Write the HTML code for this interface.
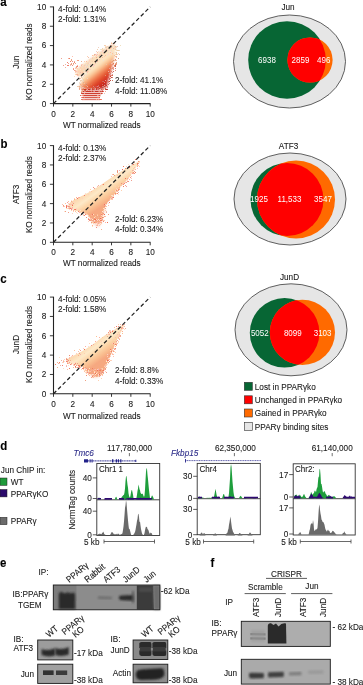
<!DOCTYPE html>
<html><head><meta charset="utf-8"><style>
html,body{margin:0;padding:0;background:#fff;width:363px;height:685px;overflow:hidden}
svg{display:block;will-change:transform}
svg{fill:#1a1a1a}
text{font-family:"Liberation Sans", sans-serif;font-size:8.2px;stroke-width:0.1px}
</style></head><body>
<svg width="363" height="685" viewBox="0 0 363 685">
<defs><filter id="blur" x="-5%" y="-5%" width="110%" height="110%"><feGaussianBlur stdDeviation="0.35"/></filter><filter id="blur1" x="-20%" y="-20%" width="140%" height="140%"><feGaussianBlur stdDeviation="1.0"/></filter><filter id="blur08" x="-20%" y="-20%" width="140%" height="140%"><feGaussianBlur stdDeviation="0.7"/></filter><linearGradient id="gA" gradientUnits="userSpaceOnUse" x1="78.7" y1="64.4" x2="98.7" y2="88.7"><stop offset="0.000" stop-color="#f9c8a0"/><stop offset="0.200" stop-color="#fce0bc"/><stop offset="0.400" stop-color="#fde6c2"/><stop offset="0.514" stop-color="#fbc898"/><stop offset="0.600" stop-color="#f6a070"/><stop offset="0.686" stop-color="#ee7a4e"/><stop offset="0.800" stop-color="#e2502f"/><stop offset="0.914" stop-color="#d63424"/><stop offset="1.000" stop-color="#c8281c"/></linearGradient><linearGradient id="gB" gradientUnits="userSpaceOnUse" x1="99.4" y1="176.9" x2="114.0" y2="198.0"><stop offset="0.000" stop-color="#f9c49e"/><stop offset="0.250" stop-color="#fcdab2"/><stop offset="0.450" stop-color="#fde9c8"/><stop offset="0.650" stop-color="#fcd4a6"/><stop offset="0.850" stop-color="#f9bc8e"/><stop offset="1.000" stop-color="#f6a880"/></linearGradient><linearGradient id="gC" gradientUnits="userSpaceOnUse" x1="92.1" y1="335.4" x2="107.0" y2="356.0"><stop offset="0.000" stop-color="#f9c49e"/><stop offset="0.250" stop-color="#fcdab2"/><stop offset="0.450" stop-color="#fde9c8"/><stop offset="0.650" stop-color="#fcd4a6"/><stop offset="0.850" stop-color="#f9bc8e"/><stop offset="1.000" stop-color="#f6a880"/></linearGradient></defs>
<text x="0.30" y="6.00" style="font-size:12.65px" fill="#000" stroke="#000" font-weight="bold" textLength="6.40" lengthAdjust="spacingAndGlyphs">a</text>
<text x="0.60" y="147.60" style="font-size:12.65px" fill="#000" stroke="#000" font-weight="bold" textLength="7.02" lengthAdjust="spacingAndGlyphs">b</text>
<text x="0.30" y="283.40" style="font-size:12.65px" fill="#000" stroke="#000" font-weight="bold" textLength="6.40" lengthAdjust="spacingAndGlyphs">c</text>
<text x="0.30" y="449.60" style="font-size:12.65px" fill="#000" stroke="#000" font-weight="bold" textLength="7.02" lengthAdjust="spacingAndGlyphs">d</text>
<text x="0.00" y="566.90" style="font-size:12.65px" fill="#000" stroke="#000" font-weight="bold" textLength="6.40" lengthAdjust="spacingAndGlyphs">e</text>
<text x="210.50" y="566.70" style="font-size:12.65px" fill="#000" stroke="#000" font-weight="bold" textLength="3.83" lengthAdjust="spacingAndGlyphs">f</text>
<g><path d="M76.5 70.0C78.1 67.5 83.8 63.8 87.5 61.0C91.2 58.2 94.8 55.5 98.5 53.0C102.2 50.5 106.8 47.7 109.5 46.3C112.2 44.9 114.6 43.9 115.0 44.5C115.4 45.1 114.5 47.8 112.0 50.0C109.5 52.2 103.7 55.2 100.0 58.0C96.3 60.8 92.8 64.2 90.0 67.0C87.2 69.8 85.0 73.5 83.0 75.0C81.0 76.5 79.1 76.8 78.0 76.0C76.9 75.2 74.9 72.5 76.5 70.0Z" fill="#fbcfa6" opacity="0.85" filter="url(#blur1)"/><path d="M114.6 46.2C115.8 46.9 115.3 49.4 115.2 52.0C115.0 54.5 114.2 58.4 113.5 61.6C112.8 64.8 112.0 68.1 111.1 71.3C110.1 74.5 109.1 78.0 107.9 80.9C106.7 83.7 108.3 87.1 103.9 88.3C99.5 89.6 85.0 89.6 81.3 88.3C77.6 87.1 81.3 83.2 81.8 80.9C82.2 78.6 82.6 77.6 84.0 74.5C85.4 71.4 87.7 65.7 90.3 62.2C93.0 58.6 97.1 55.9 100.0 53.4C102.9 51.0 105.4 48.8 107.8 47.6C110.2 46.4 113.3 45.4 114.6 46.2Z" fill="url(#gA)" filter="url(#blur1)"/><path d="M81.0 89.5H103.5" stroke="#cc3424" stroke-width="1.3" opacity="1"/><path fill="#f0b0a0" d="M79 89h1v1h-1zM83 89h1v1h-1z"/><path fill="#f0a090" d="M81 89h1v1h-1z"/><path fill="#f07050" d="M82 89h1v1h-1z"/><path fill="#f0b090" d="M99 89h1v1h-1z"/><path fill="#f0c0b0" d="M100 89h1v1h-1zM101 89h1v1h-1z"/><path fill="#f0c0a0" d="M105 89h1v1h-1z"/><path fill="#f09070" d="M103 89h1v1h-1z"/><path fill="#e09080" d="M102 89h1v1h-1z"/><path d="M81.5 91.5H103.0" stroke="#cc3424" stroke-width="1.3" opacity="1"/><path fill="#f0c0b0" d="M81 91h1v1h-1zM84 91h1v1h-1z"/><path fill="#e06060" d="M82 91h1v1h-1z"/><path fill="#f09070" d="M99 91h1v1h-1z"/><path fill="#f0b0a0" d="M100 91h1v1h-1z"/><path fill="#f0a090" d="M105 91h1v1h-1z"/><path fill="#f07060" d="M101 91h1v1h-1z"/><path fill="#e07060" d="M103 91h1v1h-1z"/><path d="M82.0 93.5H102.0" stroke="#cc3424" stroke-width="1.3" opacity="0.95"/><path fill="#f0a080" d="M84 93h1v1h-1z"/><path fill="#e05040" d="M81 93h1v1h-1z"/><path fill="#f0c0b0" d="M104 93h1v1h-1z"/><path fill="#e09080" d="M100 93h1v1h-1z"/><path fill="#e08070" d="M102 93h1v1h-1z"/><path d="M82.5 95.5H101.0" stroke="#cc3424" stroke-width="1.3" opacity="0.9"/><path fill="#e07060" d="M80 95h1v1h-1z"/><path fill="#e04030" d="M84 95h1v1h-1z"/><path fill="#f07060" d="M83 95h1v1h-1zM98 95h1v1h-1z"/><path fill="#f0c0b0" d="M81 95h1v1h-1zM100 95h1v1h-1z"/><path fill="#f0a080" d="M82 95h1v1h-1zM97 95h1v1h-1z"/><path d="M83.0 97.5H100.0" stroke="#cc3424" stroke-width="1.3" opacity="0.8"/><path fill="#f06050" d="M82 97h1v1h-1z"/><path fill="#f08070" d="M84 97h1v1h-1zM98 97h1v1h-1z"/><path fill="#f09090" d="M81 97h1v1h-1z"/><path fill="#e05040" d="M99 97h1v1h-1z"/><path fill="#f07060" d="M97 97h1v1h-1z"/><path d="M82.0 99.5H100.0" stroke="#cc3424" stroke-width="1.3" opacity="0.65"/><path fill="#f0a080" d="M83 99h1v1h-1z"/><path fill="#f09070" d="M84 99h1v1h-1z"/><path fill="#e08070" d="M81 99h1v1h-1z"/><path fill="#f0a090" d="M98 99h1v1h-1z"/><path fill="#f07050" d="M100 99h1v1h-1z"/><path fill="#f0b090" d="M96 99h1v1h-1z"/><path fill="#f08070" d="M101 99h1v1h-1z"/><path fill="#e08080" d="M97 86h1v1h-1zM104 82h1v1h-1zM102 90h1v1h-1z"/><path fill="#f0b090" d="M81 91h1v1h-1zM79 86h1v1h-1zM116 56h1v1h-1zM80 84h1v1h-1zM82 90h1v1h-1zM115 63h1v1h-1zM84 88h1v1h-1z"/><path fill="#e09080" d="M87 90h1v1h-1zM84 91h1v1h-1zM92 90h1v1h-1zM99 87h1v1h-1zM115 70h1v1h-1zM112 64h1v1h-1zM110 69h1v1h-1zM112 68h1v1h-1zM107 86h1v1h-1z"/><path fill="#c03030" d="M96 91h1v1h-1zM105 84h1v1h-1z"/><path fill="#f0e0c0" d="M114 48h1v1h-1zM115 48h1v1h-1zM86 69h1v1h-1zM90 65h1v1h-1zM119 50h1v1h-1zM115 46h1v1h-1zM102 49h1v1h-1zM80 78h1v1h-1zM110 45h1v1h-1zM82 67h1v1h-1zM104 49h1v1h-1zM97 56h1v1h-1zM88 66h1v1h-1zM93 59h1v1h-1zM115 54h1v1h-1zM92 57h1v1h-1zM88 70h1v1h-1zM103 53h1v1h-1zM93 67h1v1h-1zM90 61h1v1h-1zM79 78h1v1h-1zM82 78h1v1h-1zM120 45h1v1h-1zM90 67h1v1h-1zM114 46h1v1h-1zM96 54h1v1h-1zM99 56h1v1h-1zM116 50h1v1h-1zM84 73h1v1h-1zM112 46h1v1h-1zM111 50h1v1h-1zM112 47h1v1h-1zM83 70h1v1h-1zM107 50h1v1h-1zM110 50h1v1h-1zM88 67h1v1h-1zM107 51h1v1h-1zM88 64h1v1h-1zM109 51h1v1h-1zM112 43h1v1h-1zM106 50h1v1h-1zM101 49h1v1h-1zM85 64h1v1h-1z"/><path fill="#f0d0c0" d="M96 51h1v1h-1zM103 52h1v1h-1zM86 67h1v1h-1zM87 65h1v1h-1zM90 64h1v1h-1zM118 53h1v1h-1zM98 47h1v1h-1zM109 47h1v1h-1zM88 63h1v1h-1zM87 78h1v1h-1zM97 55h1v1h-1zM84 68h1v1h-1zM80 83h1v1h-1zM82 75h1v1h-1zM84 75h1v1h-1zM117 54h1v1h-1zM91 66h1v1h-1z"/><path fill="#e09090" d="M112 72h1v1h-1zM110 78h1v1h-1zM107 87h1v1h-1zM94 91h1v1h-1zM108 82h1v1h-1zM107 82h1v1h-1zM105 80h1v1h-1z"/><path fill="#e0a080" d="M86 85h1v1h-1zM118 58h1v1h-1zM111 68h1v1h-1zM116 63h1v1h-1zM83 85h1v1h-1zM86 83h1v1h-1zM82 91h1v1h-1zM116 62h1v1h-1zM112 61h1v1h-1zM109 64h1v1h-1z"/><path fill="#d05040" d="M93 89h1v1h-1zM95 86h1v1h-1z"/><path fill="#f0c0a0" d="M106 64h1v1h-1zM111 60h1v1h-1zM115 56h1v1h-1zM114 60h1v1h-1zM84 83h1v1h-1zM116 54h1v1h-1zM116 60h1v1h-1zM119 54h1v1h-1zM114 55h1v1h-1zM81 86h1v1h-1z"/><path fill="#f0a0a0" d="M87 89h1v1h-1z"/><path fill="#f0d0b0" d="M97 54h1v1h-1zM81 80h1v1h-1zM80 86h1v1h-1zM82 72h1v1h-1zM85 69h1v1h-1zM97 49h1v1h-1zM89 60h1v1h-1zM87 69h1v1h-1zM92 61h1v1h-1zM83 80h1v1h-1zM97 52h1v1h-1zM110 46h1v1h-1zM83 79h1v1h-1zM104 45h1v1h-1zM117 50h1v1h-1zM106 47h1v1h-1zM103 50h1v1h-1zM102 48h1v1h-1zM102 51h1v1h-1zM81 77h1v1h-1zM80 80h1v1h-1zM77 86h1v1h-1zM92 58h1v1h-1zM118 50h1v1h-1zM83 81h1v1h-1zM85 65h1v1h-1zM78 86h1v1h-1zM84 65h1v1h-1zM94 55h1v1h-1zM105 47h1v1h-1z"/><path fill="#d06050" d="M85 90h1v1h-1zM101 91h1v1h-1zM102 81h1v1h-1zM89 87h1v1h-1zM108 77h1v1h-1zM112 75h1v1h-1zM105 88h1v1h-1zM115 66h1v1h-1z"/><path fill="#f0e0d0" d="M100 54h1v1h-1zM111 51h1v1h-1zM85 66h1v1h-1zM100 49h1v1h-1zM116 47h1v1h-1zM89 62h1v1h-1zM99 53h1v1h-1zM111 45h1v1h-1zM109 48h1v1h-1zM101 51h1v1h-1zM86 64h1v1h-1zM86 72h1v1h-1zM82 80h1v1h-1zM86 65h1v1h-1zM101 53h1v1h-1zM107 55h1v1h-1zM105 49h1v1h-1zM93 57h1v1h-1zM106 46h1v1h-1zM104 50h1v1h-1zM114 45h1v1h-1zM105 46h1v1h-1zM108 50h1v1h-1zM98 53h1v1h-1zM116 46h1v1h-1zM108 52h1v1h-1zM83 76h1v1h-1zM111 53h1v1h-1zM80 81h1v1h-1zM112 48h1v1h-1zM79 83h1v1h-1zM96 55h1v1h-1zM86 74h1v1h-1zM84 74h1v1h-1zM86 68h1v1h-1zM91 58h1v1h-1zM103 51h1v1h-1zM103 60h1v1h-1zM114 47h1v1h-1zM113 52h1v1h-1zM82 77h1v1h-1zM115 52h1v1h-1zM111 54h1v1h-1zM112 44h1v1h-1zM84 70h1v1h-1zM112 49h1v1h-1zM79 82h1v1h-1zM96 62h1v1h-1zM90 59h1v1h-1zM89 66h1v1h-1zM108 46h1v1h-1zM88 68h1v1h-1zM79 79h1v1h-1zM88 65h1v1h-1zM111 49h1v1h-1z"/><path fill="#f0f0d0" d="M115 47h1v1h-1zM115 49h1v1h-1z"/><path fill="#c05040" d="M111 77h1v1h-1zM110 80h1v1h-1zM100 91h1v1h-1zM105 89h1v1h-1z"/><path fill="#f0d0a0" d="M116 52h1v1h-1zM116 53h1v1h-1z"/><path fill="#e0a090" d="M114 66h1v1h-1zM95 89h1v1h-1zM109 73h1v1h-1zM113 67h1v1h-1zM95 88h1v1h-1zM91 88h1v1h-1zM112 74h1v1h-1zM104 87h1v1h-1zM113 69h1v1h-1zM107 84h1v1h-1zM104 85h1v1h-1z"/><path fill="#d06060" d="M101 89h1v1h-1zM103 81h1v1h-1zM98 86h1v1h-1zM98 89h1v1h-1z"/><path fill="#d08080" d="M102 86h1v1h-1zM97 89h1v1h-1z"/><path fill="#f0a090" d="M112 67h1v1h-1zM113 68h1v1h-1zM109 68h1v1h-1zM116 64h1v1h-1z"/><path fill="#d07060" d="M98 85h1v1h-1zM94 87h1v1h-1zM90 89h1v1h-1zM103 87h1v1h-1zM109 78h1v1h-1zM93 91h1v1h-1zM112 80h1v1h-1zM102 84h1v1h-1zM113 71h1v1h-1z"/><path fill="#c04040" d="M104 84h1v1h-1zM107 89h1v1h-1z"/><path fill="#d05050" d="M96 86h1v1h-1z"/><path fill="#e07070" d="M94 89h1v1h-1z"/><path fill="#e09070" d="M105 75h1v1h-1zM83 88h1v1h-1zM85 85h1v1h-1zM81 92h1v1h-1zM84 87h1v1h-1zM115 59h1v1h-1z"/><path fill="#e08060" d="M86 84h1v1h-1zM115 64h1v1h-1zM114 65h1v1h-1z"/><path fill="#d07050" d="M108 73h1v1h-1z"/><path fill="#e08070" d="M110 73h1v1h-1zM110 75h1v1h-1zM111 75h1v1h-1zM115 68h1v1h-1zM111 71h1v1h-1zM93 86h1v1h-1z"/><path fill="#d08070" d="M109 83h1v1h-1zM103 86h1v1h-1zM107 81h1v1h-1zM108 81h1v1h-1zM112 77h1v1h-1z"/><path fill="#e0a0a0" d="M91 89h1v1h-1zM89 90h1v1h-1zM110 74h1v1h-1z"/><path fill="#c03020" d="M106 89h1v1h-1z"/><path fill="#f0b080" d="M79 88h1v1h-1z"/><path fill="#e07050" d="M91 84h1v1h-1zM83 89h1v1h-1zM84 90h1v1h-1zM86 89h1v1h-1z"/><path fill="#f0c0b0" d="M82 87h1v1h-1zM116 57h1v1h-1zM111 63h1v1h-1zM112 59h1v1h-1zM79 87h1v1h-1z"/><path fill="#f0b0a0" d="M113 64h1v1h-1zM82 85h1v1h-1zM111 67h1v1h-1zM83 87h1v1h-1zM87 86h1v1h-1zM108 71h1v1h-1zM115 60h1v1h-1z"/><path fill="#d07070" d="M109 79h1v1h-1zM91 91h1v1h-1zM98 91h1v1h-1zM108 84h1v1h-1z"/><path fill="#e08050" d="M113 63h1v1h-1zM82 89h1v1h-1z"/><path fill="#d04030" d="M92 89h1v1h-1zM110 76h1v1h-1z"/><path fill="#c04030" d="M99 88h1v1h-1zM109 81h1v1h-1zM96 88h1v1h-1zM106 85h1v1h-1z"/><path fill="#e07060" d="M87 88h1v1h-1zM85 91h1v1h-1z"/><path fill="#c05050" d="M102 87h1v1h-1z"/><path fill="#f0f0e0" d="M85 73h1v1h-1zM116 49h1v1h-1zM111 48h1v1h-1z"/><path fill="#d05030" d="M92 88h1v1h-1z"/><path fill="#e0a070" d="M113 60h1v1h-1z"/><path fill="#d06040" d="M115 65h1v1h-1z"/><path fill="#e0b090" d="M83 82h1v1h-1z"/><path fill="#f08060" d="M77 66h1v1h-1zM70 61h1v1h-1zM69 58h1v1h-1z"/><path fill="#f09080" d="M73 69h1v1h-1zM72 65h1v1h-1zM72 61h1v1h-1z"/><path fill="#f0b090" d="M74 61h1v1h-1zM81 61h1v1h-1z"/><path fill="#f0a090" d="M76 66h1v1h-1zM74 70h1v1h-1zM77 60h1v1h-1zM61 58h1v1h-1zM63 65h1v1h-1zM75 63h1v1h-1zM75 67h1v1h-1zM68 63h1v1h-1z"/><path fill="#f08070" d="M68 65h1v1h-1zM67 65h1v1h-1zM67 62h1v1h-1zM74 62h1v1h-1z"/><path fill="#f0c0a0" d="M81 65h1v1h-1zM73 64h1v1h-1z"/><path fill="#f0c0b0" d="M70 65h1v1h-1z"/><path fill="#f0a080" d="M76 67h1v1h-1zM73 68h1v1h-1zM78 60h1v1h-1zM71 63h1v1h-1zM71 64h1v1h-1zM71 59h1v1h-1zM71 60h1v1h-1z"/><path fill="#f0b0a0" d="M70 64h1v1h-1zM65 67h1v1h-1zM65 64h1v1h-1zM68 58h1v1h-1zM77 65h1v1h-1z"/><path fill="#ffc0b0" d="M72 56h1v1h-1z"/><path fill="#f09070" d="M73 63h1v1h-1z"/><path fill="#ffe0d0" d="M109 51h1v1h-1zM80 69h1v1h-1zM98 51h1v1h-1zM111 42h1v1h-1zM99 53h1v1h-1zM97 55h1v1h-1zM90 58h1v1h-1zM96 61h1v1h-1zM89 63h1v1h-1zM110 51h1v1h-1zM101 55h1v1h-1zM79 66h1v1h-1zM98 54h1v1h-1zM91 63h1v1h-1zM75 67h1v1h-1zM76 70h1v1h-1zM93 56h1v1h-1zM102 58h1v1h-1zM86 70h1v1h-1z"/><path fill="#ffd0b0" d="M78 74h1v1h-1zM90 67h1v1h-1zM107 50h1v1h-1zM82 73h1v1h-1zM105 45h1v1h-1zM78 75h1v1h-1zM104 56h1v1h-1zM84 61h1v1h-1zM115 47h1v1h-1zM80 67h1v1h-1zM107 46h1v1h-1zM92 57h1v1h-1zM88 71h1v1h-1zM87 56h1v1h-1zM81 70h1v1h-1zM78 71h1v1h-1z"/><path fill="#f0b0a0" d="M97 61h1v1h-1zM77 74h1v1h-1zM106 49h1v1h-1zM111 47h1v1h-1z"/><path fill="#ffd0c0" d="M100 54h1v1h-1zM90 69h1v1h-1zM83 66h1v1h-1zM114 47h1v1h-1zM113 44h1v1h-1zM81 76h1v1h-1zM81 64h1v1h-1zM93 66h1v1h-1zM77 71h1v1h-1zM82 64h1v1h-1zM91 65h1v1h-1zM89 69h1v1h-1zM94 64h1v1h-1zM89 60h1v1h-1zM75 72h1v1h-1zM102 50h1v1h-1zM94 65h1v1h-1zM102 51h1v1h-1zM81 66h1v1h-1zM80 73h1v1h-1zM102 55h1v1h-1zM77 68h1v1h-1zM85 65h1v1h-1z"/><path fill="#ffe0c0" d="M112 51h1v1h-1zM77 69h1v1h-1zM76 68h1v1h-1zM78 73h1v1h-1zM77 70h1v1h-1zM74 76h1v1h-1zM108 53h1v1h-1zM91 62h1v1h-1zM89 59h1v1h-1zM110 50h1v1h-1zM83 73h1v1h-1zM100 61h1v1h-1zM112 45h1v1h-1zM103 49h1v1h-1zM93 55h1v1h-1zM111 49h1v1h-1zM114 49h1v1h-1zM97 60h1v1h-1zM106 54h1v1h-1zM103 54h1v1h-1zM104 57h1v1h-1z"/><path fill="#ffe0b0" d="M92 65h1v1h-1zM75 74h1v1h-1zM111 48h1v1h-1z"/><path fill="#ffc0a0" d="M75 71h1v1h-1zM111 43h1v1h-1zM86 61h1v1h-1zM112 53h1v1h-1zM97 52h1v1h-1zM110 48h1v1h-1zM92 55h1v1h-1zM110 52h1v1h-1zM105 55h1v1h-1zM82 72h1v1h-1zM80 78h1v1h-1zM99 55h1v1h-1z"/><path fill="#ffd0d0" d="M93 65h1v1h-1zM96 54h1v1h-1zM88 68h1v1h-1zM97 59h1v1h-1zM108 54h1v1h-1z"/><path fill="#ffc0b0" d="M87 71h1v1h-1zM96 55h1v1h-1zM87 72h1v1h-1zM77 75h1v1h-1zM76 71h1v1h-1zM75 68h1v1h-1z"/><path fill="#f0c0b0" d="M80 72h1v1h-1zM88 57h1v1h-1zM95 63h1v1h-1zM111 45h1v1h-1zM115 49h1v1h-1zM99 59h1v1h-1zM95 54h1v1h-1zM117 46h1v1h-1z"/><path fill="#f0b090" d="M110 45h1v1h-1zM94 61h1v1h-1zM96 57h1v1h-1zM94 54h1v1h-1z"/><path fill="#f0c0a0" d="M75 70h1v1h-1zM102 57h1v1h-1zM113 48h1v1h-1zM115 46h1v1h-1zM76 74h1v1h-1zM114 43h1v1h-1zM103 53h1v1h-1z"/><path fill="#fff0d0" d="M84 63h1v1h-1zM98 53h1v1h-1zM94 56h1v1h-1z"/><path fill="#fff0e0" d="M88 59h1v1h-1z"/></g>
<path d="M53.5 6.60V103.6H150.50" fill="none" stroke="#222" stroke-width="1.1"/>
<text x="46.20" y="106.50" style="font-size:9.02px" text-anchor="end" stroke="#1a1a1a" textLength="4.56" lengthAdjust="spacingAndGlyphs">0</text>
<text x="53.50" y="116.70" style="font-size:9.02px" text-anchor="middle" stroke="#1a1a1a" textLength="4.56" lengthAdjust="spacingAndGlyphs">0</text>
<text x="46.20" y="87.16" style="font-size:9.02px" text-anchor="end" stroke="#1a1a1a" textLength="4.56" lengthAdjust="spacingAndGlyphs">2</text>
<text x="72.84" y="116.70" style="font-size:9.02px" text-anchor="middle" stroke="#1a1a1a" textLength="4.56" lengthAdjust="spacingAndGlyphs">2</text>
<text x="46.20" y="67.82" style="font-size:9.02px" text-anchor="end" stroke="#1a1a1a" textLength="4.56" lengthAdjust="spacingAndGlyphs">4</text>
<text x="92.18" y="116.70" style="font-size:9.02px" text-anchor="middle" stroke="#1a1a1a" textLength="4.56" lengthAdjust="spacingAndGlyphs">4</text>
<text x="46.20" y="48.48" style="font-size:9.02px" text-anchor="end" stroke="#1a1a1a" textLength="4.56" lengthAdjust="spacingAndGlyphs">6</text>
<text x="111.52" y="116.70" style="font-size:9.02px" text-anchor="middle" stroke="#1a1a1a" textLength="4.56" lengthAdjust="spacingAndGlyphs">6</text>
<text x="46.20" y="29.14" style="font-size:9.02px" text-anchor="end" stroke="#1a1a1a" textLength="4.56" lengthAdjust="spacingAndGlyphs">8</text>
<text x="130.86" y="116.70" style="font-size:9.02px" text-anchor="middle" stroke="#1a1a1a" textLength="4.56" lengthAdjust="spacingAndGlyphs">8</text>
<text x="46.20" y="9.80" style="font-size:9.02px" text-anchor="end" stroke="#1a1a1a" textLength="9.12" lengthAdjust="spacingAndGlyphs">10</text>
<text x="150.20" y="116.70" style="font-size:9.02px" text-anchor="middle" stroke="#1a1a1a" textLength="9.12" lengthAdjust="spacingAndGlyphs">10</text>
<path d="M49.9 103.60H53.5M53.50 103.6V106.6M49.9 84.26H53.5M72.84 103.6V106.6M49.9 64.92H53.5M92.18 103.6V106.6M49.9 45.58H53.5M111.52 103.6V106.6M49.9 26.24H53.5M130.86 103.6V106.6M49.9 6.90H53.5M150.20 103.6V106.6" stroke="#222" stroke-width="0.9"/>
<text x="101.85" y="127.60" style="font-size:9.02px" text-anchor="middle" stroke="#1a1a1a" textLength="77.77" lengthAdjust="spacingAndGlyphs">WT normalized reads</text>
<text x="31.90" y="61.80" style="font-size:9.02px" text-anchor="middle" stroke="#1a1a1a" transform="rotate(-90 31.9 61.8)" textLength="77.02" lengthAdjust="spacingAndGlyphs">KO normalized reads</text>
<text x="18.80" y="62.20" style="font-size:9.02px" text-anchor="middle" stroke="#1a1a1a" transform="rotate(-90 18.8 62.2)" textLength="13.22" lengthAdjust="spacingAndGlyphs">Jun</text>
<text x="58.10" y="12.00" style="font-size:9.02px" stroke="#1a1a1a" textLength="48.32" lengthAdjust="spacingAndGlyphs">4-fold: 0.14%</text>
<text x="58.10" y="22.20" style="font-size:9.02px" stroke="#1a1a1a" textLength="48.32" lengthAdjust="spacingAndGlyphs">2-fold: 1.31%</text>
<text x="115.00" y="83.10" style="font-size:9.02px" stroke="#1a1a1a" textLength="48.32" lengthAdjust="spacingAndGlyphs">2-fold: 41.1%</text>
<text x="115.00" y="93.50" style="font-size:9.02px" stroke="#1a1a1a" textLength="52.27" lengthAdjust="spacingAndGlyphs">4-fold: 11.08%</text>
<path d="M53.5 103.6L150.20 6.90" stroke="#222" stroke-width="1.25" stroke-dasharray="3.9 2.6"/>
<g><path d="M89.0 212.0C86.7 214.0 89.8 217.7 91.0 220.0C92.2 222.3 94.5 225.0 96.0 226.0C97.5 227.0 98.8 227.3 100.0 226.0C101.2 224.7 102.2 221.0 103.0 218.0C103.8 215.0 107.3 209.0 105.0 208.0C102.7 207.0 91.3 210.0 89.0 212.0Z" fill="#f7a47c" opacity="0.35" filter="url(#blur1)"/><path d="M138.7 161.6C136.8 162.3 131.3 165.4 127.1 167.8C122.9 170.2 118.0 173.2 113.4 176.2C108.8 179.2 104.2 182.8 99.6 185.8C95.0 188.8 89.9 191.8 85.8 194.1C81.7 196.4 77.7 197.9 74.8 199.6C71.9 201.3 69.2 202.9 68.5 204.5C67.8 206.1 68.7 207.9 70.7 209.2C72.7 210.4 77.3 210.9 80.3 212.0C83.3 213.1 86.8 214.0 88.6 215.5C90.4 217.0 89.7 219.6 91.3 221.0C92.9 222.4 96.4 224.2 98.2 224.0C100.0 223.8 101.4 221.8 102.3 219.6C103.2 217.4 102.8 213.5 103.7 210.6C104.6 207.7 105.4 205.9 107.9 202.3C110.4 198.7 115.2 193.3 118.9 189.0C122.6 184.7 126.7 180.7 129.9 176.5C133.1 172.3 136.7 166.3 138.2 163.8C139.7 161.3 140.5 160.9 138.7 161.6Z" fill="url(#gB)" filter="url(#blur08)"/><path fill="#f0b0a0" d="M137 166h1v1h-1zM69 204h1v1h-1zM83 211h1v1h-1zM106 212h1v1h-1zM132 170h1v1h-1zM104 216h1v1h-1zM67 205h1v1h-1zM93 221h1v1h-1zM117 191h1v1h-1zM98 185h1v1h-1zM118 192h1v1h-1zM72 204h1v1h-1z"/><path fill="#ffe0c0" d="M110 199h1v1h-1zM68 207h1v1h-1zM76 212h1v1h-1zM98 222h1v1h-1zM130 173h1v1h-1zM67 208h1v1h-1zM103 208h1v1h-1zM111 195h1v1h-1z"/><path fill="#ffe0d0" d="M113 196h1v1h-1zM108 203h1v1h-1zM102 211h1v1h-1zM84 213h1v1h-1zM103 214h1v1h-1zM69 209h1v1h-1zM91 221h1v1h-1zM91 223h1v1h-1zM131 173h1v1h-1zM89 191h1v1h-1zM118 194h1v1h-1zM94 220h1v1h-1zM120 186h1v1h-1zM92 219h1v1h-1zM139 162h1v1h-1zM72 209h1v1h-1zM77 213h1v1h-1zM80 210h1v1h-1zM127 180h1v1h-1zM112 195h1v1h-1zM71 200h1v1h-1zM117 189h1v1h-1zM98 219h1v1h-1zM85 193h1v1h-1zM128 164h1v1h-1z"/><path fill="#f07060" d="M129 167h1v1h-1zM125 178h1v1h-1zM113 197h1v1h-1zM77 198h1v1h-1zM122 169h1v1h-1zM75 209h1v1h-1zM104 204h1v1h-1z"/><path fill="#f0a090" d="M127 181h1v1h-1zM117 170h1v1h-1zM131 180h1v1h-1zM104 205h1v1h-1zM125 185h1v1h-1zM94 188h1v1h-1zM118 190h1v1h-1zM69 206h1v1h-1zM138 163h1v1h-1zM105 208h1v1h-1zM132 173h1v1h-1zM92 220h1v1h-1zM112 197h1v1h-1z"/><path fill="#ffd0b0" d="M111 199h1v1h-1zM80 212h1v1h-1zM73 211h1v1h-1zM92 221h1v1h-1zM83 215h1v1h-1zM105 210h1v1h-1zM139 161h1v1h-1zM100 218h1v1h-1zM115 191h1v1h-1zM88 216h1v1h-1zM118 186h1v1h-1zM127 179h1v1h-1zM126 179h1v1h-1zM87 214h1v1h-1zM74 198h1v1h-1zM90 189h1v1h-1zM130 172h1v1h-1zM86 214h1v1h-1zM104 208h1v1h-1zM139 166h1v1h-1zM121 190h1v1h-1zM115 186h1v1h-1zM100 224h1v1h-1zM76 209h1v1h-1zM110 198h1v1h-1zM80 209h1v1h-1zM122 184h1v1h-1zM138 165h1v1h-1zM130 175h1v1h-1zM71 210h1v1h-1z"/><path fill="#ffd0c0" d="M105 204h1v1h-1zM126 166h1v1h-1zM79 209h1v1h-1zM82 198h1v1h-1zM131 178h1v1h-1zM67 206h1v1h-1zM97 220h1v1h-1zM95 223h1v1h-1zM101 215h1v1h-1zM74 202h1v1h-1zM88 194h1v1h-1zM83 214h1v1h-1zM119 173h1v1h-1zM107 202h1v1h-1zM116 188h1v1h-1zM68 203h1v1h-1zM124 182h1v1h-1zM115 190h1v1h-1zM96 219h1v1h-1zM100 185h1v1h-1zM76 208h1v1h-1z"/><path fill="#ffc0b0" d="M89 219h1v1h-1zM90 218h1v1h-1zM112 199h1v1h-1zM97 186h1v1h-1zM117 175h1v1h-1zM123 183h1v1h-1zM119 188h1v1h-1zM108 205h1v1h-1zM109 200h1v1h-1zM134 167h1v1h-1zM125 182h1v1h-1zM83 212h1v1h-1zM97 223h1v1h-1zM111 176h1v1h-1zM99 225h1v1h-1zM131 176h1v1h-1zM112 174h1v1h-1zM91 218h1v1h-1zM79 210h1v1h-1zM132 164h1v1h-1z"/><path fill="#f08070" d="M109 202h1v1h-1zM74 209h1v1h-1zM84 195h1v1h-1zM85 214h1v1h-1zM78 211h1v1h-1zM88 219h1v1h-1zM84 215h1v1h-1zM119 176h1v1h-1zM117 193h1v1h-1zM70 204h1v1h-1zM135 159h1v1h-1z"/><path fill="#f08060" d="M101 220h1v1h-1zM133 164h1v1h-1zM94 222h1v1h-1zM123 186h1v1h-1zM70 208h1v1h-1zM102 217h1v1h-1zM103 184h1v1h-1zM94 221h1v1h-1zM123 166h1v1h-1zM135 172h1v1h-1zM137 163h1v1h-1z"/><path fill="#ffb090" d="M69 207h1v1h-1zM101 222h1v1h-1zM74 199h1v1h-1zM79 197h1v1h-1zM109 196h1v1h-1zM76 197h1v1h-1zM88 218h1v1h-1zM100 217h1v1h-1zM100 222h1v1h-1zM94 219h1v1h-1zM119 189h1v1h-1z"/><path fill="#ffd0a0" d="M133 168h1v1h-1zM116 193h1v1h-1zM103 210h1v1h-1z"/><path fill="#ffc0a0" d="M86 213h1v1h-1zM81 213h1v1h-1zM121 185h1v1h-1zM113 195h1v1h-1zM84 212h1v1h-1zM137 165h1v1h-1zM102 184h1v1h-1zM68 208h1v1h-1zM100 221h1v1h-1zM93 222h1v1h-1zM132 172h1v1h-1zM106 206h1v1h-1zM129 179h1v1h-1zM116 189h1v1h-1zM91 191h1v1h-1zM112 198h1v1h-1zM105 206h1v1h-1zM75 211h1v1h-1z"/><path fill="#ffb0a0" d="M99 222h1v1h-1zM72 207h1v1h-1zM80 215h1v1h-1zM133 173h1v1h-1zM73 210h1v1h-1zM78 197h1v1h-1zM88 221h1v1h-1zM101 219h1v1h-1zM79 212h1v1h-1zM115 194h1v1h-1zM135 169h1v1h-1z"/><path fill="#f09070" d="M116 190h1v1h-1zM118 189h1v1h-1zM86 217h1v1h-1zM104 206h1v1h-1zM125 168h1v1h-1zM124 183h1v1h-1zM133 172h1v1h-1zM82 212h1v1h-1zM115 193h1v1h-1zM117 171h1v1h-1z"/><path fill="#f09080" d="M123 184h1v1h-1zM134 173h1v1h-1zM68 206h1v1h-1zM103 213h1v1h-1zM137 164h1v1h-1zM121 183h1v1h-1zM93 187h1v1h-1zM130 177h1v1h-1zM128 181h1v1h-1zM103 221h1v1h-1zM71 209h1v1h-1z"/><path fill="#ffc0c0" d="M72 208h1v1h-1zM137 168h1v1h-1z"/><path fill="#f0a080" d="M113 174h1v1h-1zM91 222h1v1h-1zM134 171h1v1h-1zM103 217h1v1h-1zM138 161h1v1h-1zM114 175h1v1h-1zM117 172h1v1h-1zM90 220h1v1h-1zM73 203h1v1h-1zM126 182h1v1h-1zM101 217h1v1h-1z"/><path fill="#f0b090" d="M102 212h1v1h-1zM127 178h1v1h-1zM134 162h1v1h-1zM71 201h1v1h-1zM119 187h1v1h-1z"/><path fill="#f0a0a0" d="M126 186h1v1h-1zM111 198h1v1h-1z"/><path fill="#f0c0b0" d="M69 205h1v1h-1zM133 170h1v1h-1zM96 225h1v1h-1zM112 191h1v1h-1zM106 211h1v1h-1z"/><path fill="#f0b0b0" d="M119 170h1v1h-1z"/><path fill="#fff0e0" d="M97 224h1v1h-1z"/><path fill="#ffc090" d="M117 190h1v1h-1zM101 213h1v1h-1z"/><path fill="#ffd0d0" d="M128 178h1v1h-1z"/><path fill="#f08060" d="M94 219h1v1h-1zM100 220h1v1h-1z"/><path fill="#ffd0a0" d="M92 222h1v1h-1z"/><path fill="#ffe0c0" d="M94 217h1v1h-1zM102 216h1v1h-1zM92 226h1v1h-1zM93 214h1v1h-1z"/><path fill="#ffc090" d="M97 214h1v1h-1z"/><path fill="#ffb090" d="M92 225h1v1h-1zM91 215h1v1h-1zM97 225h1v1h-1z"/><path fill="#ffd0b0" d="M100 219h1v1h-1zM103 214h1v1h-1zM104 220h1v1h-1zM103 220h1v1h-1zM97 215h1v1h-1zM101 223h1v1h-1zM93 223h1v1h-1z"/><path fill="#ffc0a0" d="M102 215h1v1h-1zM95 216h1v1h-1zM101 217h1v1h-1zM105 216h1v1h-1zM100 217h1v1h-1z"/><path fill="#f06050" d="M100 218h1v1h-1z"/><path fill="#ffd0c0" d="M88 221h1v1h-1zM99 220h1v1h-1z"/><path fill="#f0b090" d="M101 229h1v1h-1zM98 217h1v1h-1z"/><path fill="#f0a080" d="M96 215h1v1h-1zM108 214h1v1h-1zM99 218h1v1h-1zM99 216h1v1h-1z"/><path fill="#ffc0b0" d="M100 221h1v1h-1zM97 222h1v1h-1zM102 220h1v1h-1zM97 224h1v1h-1z"/><path fill="#f07050" d="M95 219h1v1h-1zM104 214h1v1h-1zM107 222h1v1h-1z"/><path fill="#f08070" d="M101 214h1v1h-1z"/><path fill="#f0c0b0" d="M94 221h1v1h-1z"/><path fill="#f07060" d="M92 214h1v1h-1z"/><path fill="#f09080" d="M89 220h1v1h-1zM96 220h1v1h-1zM94 218h1v1h-1zM96 227h1v1h-1z"/><path fill="#ffb0a0" d="M105 222h1v1h-1z"/><path fill="#ffe0d0" d="M96 223h1v1h-1z"/><path fill="#f0b0a0" d="M98 222h1v1h-1z"/><path fill="#f0a090" d="M102 219h1v1h-1zM89 219h1v1h-1z"/><path fill="#ffc0b0" d="M70 204h1v1h-1zM62 204h1v1h-1zM71 204h1v1h-1zM70 207h1v1h-1zM72 202h1v1h-1zM67 206h1v1h-1z"/><path fill="#f0a0a0" d="M71 208h1v1h-1zM67 202h1v1h-1z"/><path fill="#f0a080" d="M65 211h1v1h-1zM63 205h1v1h-1z"/><path fill="#ffd0c0" d="M67 205h1v1h-1zM72 213h1v1h-1z"/><path fill="#f0a090" d="M69 206h1v1h-1zM68 212h1v1h-1zM69 208h1v1h-1z"/><path fill="#f07060" d="M66 206h1v1h-1zM66 207h1v1h-1z"/><path fill="#ffc0a0" d="M65 203h1v1h-1zM68 201h1v1h-1z"/><path fill="#f08070" d="M66 205h1v1h-1z"/><path fill="#ffe0c0" d="M68 207h1v1h-1zM69 203h1v1h-1zM66 208h1v1h-1zM69 205h1v1h-1z"/><path fill="#f0c0b0" d="M69 207h1v1h-1z"/><path fill="#ffb0a0" d="M63 206h1v1h-1z"/><path fill="#ffe0d0" d="M64 211h1v1h-1z"/><path fill="#f07050" d="M72 205h1v1h-1z"/><path fill="#ffd0b0" d="M64 206h1v1h-1z"/></g>
<path d="M53.5 145.30V242.3H150.50" fill="none" stroke="#222" stroke-width="1.1"/>
<text x="46.20" y="245.20" style="font-size:9.02px" text-anchor="end" stroke="#1a1a1a" textLength="4.56" lengthAdjust="spacingAndGlyphs">0</text>
<text x="53.50" y="255.40" style="font-size:9.02px" text-anchor="middle" stroke="#1a1a1a" textLength="4.56" lengthAdjust="spacingAndGlyphs">0</text>
<text x="46.20" y="225.86" style="font-size:9.02px" text-anchor="end" stroke="#1a1a1a" textLength="4.56" lengthAdjust="spacingAndGlyphs">2</text>
<text x="72.84" y="255.40" style="font-size:9.02px" text-anchor="middle" stroke="#1a1a1a" textLength="4.56" lengthAdjust="spacingAndGlyphs">2</text>
<text x="46.20" y="206.52" style="font-size:9.02px" text-anchor="end" stroke="#1a1a1a" textLength="4.56" lengthAdjust="spacingAndGlyphs">4</text>
<text x="92.18" y="255.40" style="font-size:9.02px" text-anchor="middle" stroke="#1a1a1a" textLength="4.56" lengthAdjust="spacingAndGlyphs">4</text>
<text x="46.20" y="187.18" style="font-size:9.02px" text-anchor="end" stroke="#1a1a1a" textLength="4.56" lengthAdjust="spacingAndGlyphs">6</text>
<text x="111.52" y="255.40" style="font-size:9.02px" text-anchor="middle" stroke="#1a1a1a" textLength="4.56" lengthAdjust="spacingAndGlyphs">6</text>
<text x="46.20" y="167.84" style="font-size:9.02px" text-anchor="end" stroke="#1a1a1a" textLength="4.56" lengthAdjust="spacingAndGlyphs">8</text>
<text x="130.86" y="255.40" style="font-size:9.02px" text-anchor="middle" stroke="#1a1a1a" textLength="4.56" lengthAdjust="spacingAndGlyphs">8</text>
<text x="46.20" y="148.50" style="font-size:9.02px" text-anchor="end" stroke="#1a1a1a" textLength="9.12" lengthAdjust="spacingAndGlyphs">10</text>
<text x="150.20" y="255.40" style="font-size:9.02px" text-anchor="middle" stroke="#1a1a1a" textLength="9.12" lengthAdjust="spacingAndGlyphs">10</text>
<path d="M49.9 242.30H53.5M53.50 242.3V245.3M49.9 222.96H53.5M72.84 242.3V245.3M49.9 203.62H53.5M92.18 242.3V245.3M49.9 184.28H53.5M111.52 242.3V245.3M49.9 164.94H53.5M130.86 242.3V245.3M49.9 145.60H53.5M150.20 242.3V245.3" stroke="#222" stroke-width="0.9"/>
<text x="101.85" y="266.30" style="font-size:9.02px" text-anchor="middle" stroke="#1a1a1a" textLength="77.77" lengthAdjust="spacingAndGlyphs">WT normalized reads</text>
<text x="31.90" y="194.60" style="font-size:9.02px" text-anchor="middle" stroke="#1a1a1a" transform="rotate(-90 31.9 194.6)" textLength="77.02" lengthAdjust="spacingAndGlyphs">KO normalized reads</text>
<text x="18.80" y="194.40" style="font-size:9.02px" text-anchor="middle" stroke="#1a1a1a" transform="rotate(-90 18.8 194.4)" textLength="19.44" lengthAdjust="spacingAndGlyphs">ATF3</text>
<text x="58.10" y="150.70" style="font-size:9.02px" stroke="#1a1a1a" textLength="48.32" lengthAdjust="spacingAndGlyphs">4-fold: 0.13%</text>
<text x="58.10" y="160.90" style="font-size:9.02px" stroke="#1a1a1a" textLength="48.32" lengthAdjust="spacingAndGlyphs">2-fold: 2.37%</text>
<text x="115.00" y="221.80" style="font-size:9.02px" stroke="#1a1a1a" textLength="48.32" lengthAdjust="spacingAndGlyphs">2-fold: 6.23%</text>
<text x="115.00" y="232.20" style="font-size:9.02px" stroke="#1a1a1a" textLength="48.32" lengthAdjust="spacingAndGlyphs">4-fold: 0.34%</text>
<path d="M53.5 242.3L150.20 145.60" stroke="#222" stroke-width="1.25" stroke-dasharray="3.9 2.6"/>
<g><path d="M84.0 366.0C81.5 369.0 87.2 372.0 89.0 374.0C90.8 376.0 93.0 377.8 95.0 378.0C97.0 378.2 99.3 377.3 101.0 375.0C102.7 372.7 104.5 367.2 105.0 364.0C105.5 360.8 107.5 355.7 104.0 356.0C100.5 356.3 86.5 363.0 84.0 366.0Z" fill="#f7a47c" opacity="0.35" filter="url(#blur1)"/><path d="M123.0 324.8C121.3 325.3 116.9 328.2 113.4 330.3C110.0 332.4 106.0 334.7 102.3 337.2C98.6 339.7 95.0 343.0 91.3 345.5C87.6 348.0 83.5 350.5 80.3 352.3C77.1 354.1 74.3 355.3 72.0 356.5C69.7 357.7 67.2 358.5 66.5 359.5C65.8 360.5 66.5 361.6 67.9 362.5C69.3 363.4 72.3 363.9 74.8 364.7C77.3 365.4 80.7 365.6 83.0 367.0C85.3 368.4 86.5 371.3 88.6 373.0C90.7 374.7 93.2 376.9 95.5 377.0C97.8 377.1 100.5 375.4 102.3 373.4C104.1 371.3 104.9 368.2 106.5 364.7C108.1 361.2 110.2 356.6 112.0 352.3C113.8 348.0 115.6 342.7 117.5 338.6C119.4 334.5 122.6 329.8 123.5 327.5C124.4 325.2 124.7 324.3 123.0 324.8Z" fill="url(#gC)" filter="url(#blur08)"/><path fill="#ffb0a0" d="M109 334h1v1h-1zM119 336h1v1h-1zM124 324h1v1h-1zM99 337h1v1h-1zM85 346h1v1h-1zM116 345h1v1h-1zM104 369h1v1h-1zM72 355h1v1h-1zM95 341h1v1h-1z"/><path fill="#ffd0b0" d="M84 353h1v1h-1zM115 352h1v1h-1zM114 340h1v1h-1zM121 329h1v1h-1zM79 349h1v1h-1zM89 343h1v1h-1zM81 369h1v1h-1zM116 328h1v1h-1zM118 324h1v1h-1zM110 360h1v1h-1zM71 356h1v1h-1zM98 375h1v1h-1zM112 349h1v1h-1zM102 368h1v1h-1zM114 343h1v1h-1zM87 372h1v1h-1zM112 343h1v1h-1zM104 366h1v1h-1zM114 351h1v1h-1zM116 342h1v1h-1zM98 380h1v1h-1zM86 373h1v1h-1zM118 341h1v1h-1zM84 366h1v1h-1z"/><path fill="#f0a090" d="M114 349h1v1h-1zM99 375h1v1h-1zM79 367h1v1h-1zM105 369h1v1h-1zM117 340h1v1h-1zM92 373h1v1h-1zM80 350h1v1h-1zM106 372h1v1h-1zM91 377h1v1h-1zM121 328h1v1h-1zM116 341h1v1h-1zM77 367h1v1h-1zM97 374h1v1h-1zM103 372h1v1h-1zM77 363h1v1h-1zM101 372h1v1h-1zM120 335h1v1h-1zM69 362h1v1h-1z"/><path fill="#f0b0a0" d="M125 328h1v1h-1zM89 373h1v1h-1zM88 372h1v1h-1zM120 324h1v1h-1zM119 339h1v1h-1zM100 375h1v1h-1zM93 344h1v1h-1zM121 327h1v1h-1zM118 337h1v1h-1z"/><path fill="#f09070" d="M102 370h1v1h-1zM75 363h1v1h-1zM109 361h1v1h-1zM102 372h1v1h-1zM63 361h1v1h-1zM79 365h1v1h-1zM69 355h1v1h-1zM99 372h1v1h-1z"/><path fill="#f08070" d="M122 325h1v1h-1zM113 343h1v1h-1zM115 348h1v1h-1zM66 361h1v1h-1zM92 376h1v1h-1zM70 364h1v1h-1zM110 332h1v1h-1zM116 326h1v1h-1zM108 360h1v1h-1zM74 364h1v1h-1z"/><path fill="#ffe0d0" d="M68 358h1v1h-1zM95 374h1v1h-1zM107 364h1v1h-1zM123 326h1v1h-1zM118 342h1v1h-1zM124 329h1v1h-1zM73 363h1v1h-1zM88 346h1v1h-1zM108 363h1v1h-1zM110 355h1v1h-1zM88 370h1v1h-1zM104 370h1v1h-1zM77 365h1v1h-1zM72 361h1v1h-1zM72 362h1v1h-1zM87 369h1v1h-1zM110 350h1v1h-1z"/><path fill="#ffc0a0" d="M109 357h1v1h-1zM85 370h1v1h-1zM118 338h1v1h-1zM105 364h1v1h-1zM101 374h1v1h-1zM74 350h1v1h-1zM117 343h1v1h-1zM67 362h1v1h-1zM106 367h1v1h-1zM109 359h1v1h-1zM88 373h1v1h-1zM114 348h1v1h-1zM122 328h1v1h-1zM93 377h1v1h-1zM89 371h1v1h-1zM115 343h1v1h-1zM69 358h1v1h-1zM114 327h1v1h-1zM84 371h1v1h-1zM89 375h1v1h-1zM112 354h1v1h-1z"/><path fill="#fff0d0" d="M106 361h1v1h-1zM96 373h1v1h-1z"/><path fill="#f0c0b0" d="M78 367h1v1h-1zM105 365h1v1h-1zM106 334h1v1h-1zM119 334h1v1h-1zM113 348h1v1h-1zM115 337h1v1h-1zM78 351h1v1h-1zM82 363h1v1h-1zM94 375h1v1h-1zM124 326h1v1h-1zM74 365h1v1h-1z"/><path fill="#ffd0c0" d="M73 364h1v1h-1zM78 366h1v1h-1zM106 365h1v1h-1zM116 335h1v1h-1zM107 356h1v1h-1zM110 330h1v1h-1zM119 338h1v1h-1zM112 353h1v1h-1zM83 348h1v1h-1zM118 336h1v1h-1zM80 366h1v1h-1zM75 362h1v1h-1zM111 360h1v1h-1zM107 354h1v1h-1zM73 365h1v1h-1zM101 341h1v1h-1zM108 358h1v1h-1zM115 349h1v1h-1zM113 330h1v1h-1zM76 367h1v1h-1zM110 356h1v1h-1zM76 353h1v1h-1zM69 363h1v1h-1zM116 343h1v1h-1zM110 352h1v1h-1zM83 369h1v1h-1zM105 371h1v1h-1z"/><path fill="#f0a080" d="M75 367h1v1h-1zM85 367h1v1h-1zM108 362h1v1h-1zM106 358h1v1h-1zM76 365h1v1h-1zM116 344h1v1h-1zM67 359h1v1h-1zM105 368h1v1h-1zM83 367h1v1h-1zM113 351h1v1h-1zM79 353h1v1h-1z"/><path fill="#ffc0b0" d="M113 356h1v1h-1zM109 331h1v1h-1zM100 374h1v1h-1zM117 334h1v1h-1zM110 331h1v1h-1zM113 354h1v1h-1zM112 330h1v1h-1zM90 371h1v1h-1zM85 368h1v1h-1zM80 367h1v1h-1zM119 335h1v1h-1zM113 350h1v1h-1zM67 360h1v1h-1zM123 328h1v1h-1zM71 364h1v1h-1zM120 330h1v1h-1zM102 375h1v1h-1zM93 374h1v1h-1zM91 374h1v1h-1zM67 361h1v1h-1zM109 330h1v1h-1zM118 332h1v1h-1zM106 360h1v1h-1zM86 372h1v1h-1zM108 334h1v1h-1zM75 364h1v1h-1z"/><path fill="#f0b090" d="M108 354h1v1h-1zM107 336h1v1h-1zM70 360h1v1h-1zM99 376h1v1h-1zM120 336h1v1h-1zM71 363h1v1h-1zM66 358h1v1h-1z"/><path fill="#f09080" d="M108 332h1v1h-1zM109 355h1v1h-1zM91 345h1v1h-1zM66 359h1v1h-1zM68 360h1v1h-1zM118 326h1v1h-1z"/><path fill="#f07060" d="M78 365h1v1h-1zM79 366h1v1h-1zM110 349h1v1h-1z"/><path fill="#ffb090" d="M73 367h1v1h-1zM122 331h1v1h-1zM104 365h1v1h-1zM78 355h1v1h-1zM122 327h1v1h-1z"/><path fill="#f07050" d="M75 366h1v1h-1zM84 349h1v1h-1zM107 360h1v1h-1zM103 370h1v1h-1zM112 331h1v1h-1z"/><path fill="#f08060" d="M82 368h1v1h-1zM102 371h1v1h-1zM115 344h1v1h-1zM111 351h1v1h-1zM83 368h1v1h-1z"/><path fill="#ffd0a0" d="M102 337h1v1h-1zM107 362h1v1h-1z"/><path fill="#ffc090" d="M122 333h1v1h-1zM86 370h1v1h-1zM115 346h1v1h-1zM96 336h1v1h-1zM102 374h1v1h-1z"/><path fill="#ffe0c0" d="M68 365h1v1h-1zM90 374h1v1h-1zM86 371h1v1h-1zM85 372h1v1h-1zM92 377h1v1h-1zM79 352h1v1h-1z"/><path fill="#f0b0b0" d="M80 354h1v1h-1z"/><path fill="#ffc090" d="M93 370h1v1h-1z"/><path fill="#f0a080" d="M87 370h1v1h-1zM102 371h1v1h-1zM100 375h1v1h-1zM94 368h1v1h-1zM95 370h1v1h-1zM90 368h1v1h-1zM92 371h1v1h-1zM85 380h1v1h-1z"/><path fill="#f08060" d="M100 370h1v1h-1zM92 368h1v1h-1z"/><path fill="#f0b0b0" d="M98 369h1v1h-1z"/><path fill="#ffe0d0" d="M92 374h1v1h-1zM86 369h1v1h-1zM94 372h1v1h-1z"/><path fill="#f08070" d="M99 370h1v1h-1z"/><path fill="#ffd0b0" d="M94 371h1v1h-1zM102 369h1v1h-1zM93 374h1v1h-1zM101 378h1v1h-1zM95 376h1v1h-1z"/><path fill="#f0b090" d="M100 368h1v1h-1zM100 373h1v1h-1zM103 373h1v1h-1z"/><path fill="#ffb090" d="M95 371h1v1h-1zM94 373h1v1h-1zM94 376h1v1h-1zM98 368h1v1h-1z"/><path fill="#f07050" d="M95 373h1v1h-1z"/><path fill="#f09070" d="M86 375h1v1h-1z"/><path fill="#f06050" d="M99 374h1v1h-1z"/><path fill="#ffd0c0" d="M97 369h1v1h-1z"/><path fill="#f0a090" d="M93 369h1v1h-1zM86 368h1v1h-1z"/><path fill="#f09080" d="M89 373h1v1h-1zM87 372h1v1h-1zM100 369h1v1h-1zM87 369h1v1h-1z"/><path fill="#ffe0c0" d="M89 368h1v1h-1zM84 370h1v1h-1zM98 374h1v1h-1zM88 371h1v1h-1z"/><path fill="#ffc0b0" d="M97 372h1v1h-1z"/><path fill="#f0b0a0" d="M100 372h1v1h-1zM91 370h1v1h-1z"/><path fill="#ffb0a0" d="M94 369h1v1h-1z"/><path fill="#ffc0a0" d="M101 368h1v1h-1zM95 369h1v1h-1zM88 374h1v1h-1z"/><path fill="#f07060" d="M97 370h1v1h-1z"/><path fill="#f08060" d="M55 364h1v1h-1zM69 368h1v1h-1zM59 362h1v1h-1z"/><path fill="#ffe0c0" d="M63 368h1v1h-1zM59 357h1v1h-1z"/><path fill="#f08070" d="M62 365h1v1h-1z"/><path fill="#ffe0d0" d="M70 361h1v1h-1zM68 362h1v1h-1zM64 361h1v1h-1z"/><path fill="#ffc0b0" d="M66 365h1v1h-1zM69 357h1v1h-1z"/><path fill="#ffd0c0" d="M62 362h1v1h-1zM59 363h1v1h-1zM71 356h1v1h-1zM64 359h1v1h-1z"/><path fill="#ffb090" d="M57 362h1v1h-1z"/><path fill="#ffc0a0" d="M68 363h1v1h-1zM67 369h1v1h-1z"/><path fill="#f0b0a0" d="M63 361h1v1h-1zM61 360h1v1h-1zM60 365h1v1h-1zM58 363h1v1h-1z"/><path fill="#f0b0b0" d="M66 366h1v1h-1z"/><path fill="#f0b090" d="M57 367h1v1h-1z"/><path fill="#ffd0b0" d="M63 362h1v1h-1zM63 360h1v1h-1z"/><path fill="#f0a080" d="M67 363h1v1h-1z"/><path fill="#f09080" d="M67 361h1v1h-1z"/></g>
<path d="M53.5 296.80V393.8H150.50" fill="none" stroke="#222" stroke-width="1.1"/>
<text x="46.20" y="396.70" style="font-size:9.02px" text-anchor="end" stroke="#1a1a1a" textLength="4.56" lengthAdjust="spacingAndGlyphs">0</text>
<text x="53.50" y="406.90" style="font-size:9.02px" text-anchor="middle" stroke="#1a1a1a" textLength="4.56" lengthAdjust="spacingAndGlyphs">0</text>
<text x="46.20" y="377.36" style="font-size:9.02px" text-anchor="end" stroke="#1a1a1a" textLength="4.56" lengthAdjust="spacingAndGlyphs">2</text>
<text x="72.84" y="406.90" style="font-size:9.02px" text-anchor="middle" stroke="#1a1a1a" textLength="4.56" lengthAdjust="spacingAndGlyphs">2</text>
<text x="46.20" y="358.02" style="font-size:9.02px" text-anchor="end" stroke="#1a1a1a" textLength="4.56" lengthAdjust="spacingAndGlyphs">4</text>
<text x="92.18" y="406.90" style="font-size:9.02px" text-anchor="middle" stroke="#1a1a1a" textLength="4.56" lengthAdjust="spacingAndGlyphs">4</text>
<text x="46.20" y="338.68" style="font-size:9.02px" text-anchor="end" stroke="#1a1a1a" textLength="4.56" lengthAdjust="spacingAndGlyphs">6</text>
<text x="111.52" y="406.90" style="font-size:9.02px" text-anchor="middle" stroke="#1a1a1a" textLength="4.56" lengthAdjust="spacingAndGlyphs">6</text>
<text x="46.20" y="319.34" style="font-size:9.02px" text-anchor="end" stroke="#1a1a1a" textLength="4.56" lengthAdjust="spacingAndGlyphs">8</text>
<text x="130.86" y="406.90" style="font-size:9.02px" text-anchor="middle" stroke="#1a1a1a" textLength="4.56" lengthAdjust="spacingAndGlyphs">8</text>
<text x="46.20" y="300.00" style="font-size:9.02px" text-anchor="end" stroke="#1a1a1a" textLength="9.12" lengthAdjust="spacingAndGlyphs">10</text>
<text x="150.20" y="406.90" style="font-size:9.02px" text-anchor="middle" stroke="#1a1a1a" textLength="9.12" lengthAdjust="spacingAndGlyphs">10</text>
<path d="M49.9 393.80H53.5M53.50 393.8V396.8M49.9 374.46H53.5M72.84 393.8V396.8M49.9 355.12H53.5M92.18 393.8V396.8M49.9 335.78H53.5M111.52 393.8V396.8M49.9 316.44H53.5M130.86 393.8V396.8M49.9 297.10H53.5M150.20 393.8V396.8" stroke="#222" stroke-width="0.9"/>
<text x="101.85" y="419.30" style="font-size:9.02px" text-anchor="middle" stroke="#1a1a1a" textLength="77.77" lengthAdjust="spacingAndGlyphs">WT normalized reads</text>
<text x="31.90" y="344.40" style="font-size:9.02px" text-anchor="middle" stroke="#1a1a1a" transform="rotate(-90 31.9 344.4)" textLength="77.02" lengthAdjust="spacingAndGlyphs">KO normalized reads</text>
<text x="18.80" y="344.50" style="font-size:9.02px" text-anchor="middle" stroke="#1a1a1a" transform="rotate(-90 18.8 344.5)" textLength="19.14" lengthAdjust="spacingAndGlyphs">JunD</text>
<text x="58.10" y="302.20" style="font-size:9.02px" stroke="#1a1a1a" textLength="48.32" lengthAdjust="spacingAndGlyphs">4-fold: 0.05%</text>
<text x="58.10" y="312.40" style="font-size:9.02px" stroke="#1a1a1a" textLength="48.32" lengthAdjust="spacingAndGlyphs">2-fold: 1.58%</text>
<text x="115.00" y="373.30" style="font-size:9.02px" stroke="#1a1a1a" textLength="43.76" lengthAdjust="spacingAndGlyphs">2-fold: 8.8%</text>
<text x="115.00" y="383.70" style="font-size:9.02px" stroke="#1a1a1a" textLength="48.32" lengthAdjust="spacingAndGlyphs">4-fold: 0.33%</text>
<path d="M53.5 393.8L150.20 297.10" stroke="#222" stroke-width="1.25" stroke-dasharray="3.9 2.6"/>
<ellipse cx="289.5" cy="61.5" rx="56" ry="46.5" fill="#e6e6e6" stroke="#3a3a3a" stroke-width="0.8"/>
<circle cx="287" cy="60" r="38.8" fill="#076634"/>
<circle cx="310" cy="60" r="22.6" fill="#ff6a00"/>
<clipPath id="clip61"><circle cx="287" cy="60" r="38.8"/></clipPath>
<circle cx="310" cy="60" r="22.6" fill="#ff0000" clip-path="url(#clip61)"/>
<text x="288.00" y="9.80" style="font-size:9.02px" text-anchor="middle" stroke="#1a1a1a" textLength="13.22" lengthAdjust="spacingAndGlyphs">Jun</text>
<text x="267.00" y="62.90" style="font-size:8.80px" text-anchor="middle" fill="#ffffff" stroke-width="0" textLength="17.80" lengthAdjust="spacingAndGlyphs">6938</text>
<text x="300.50" y="62.90" style="font-size:8.80px" text-anchor="middle" fill="#ffffff" stroke-width="0" textLength="17.80" lengthAdjust="spacingAndGlyphs">2859</text>
<text x="323.70" y="62.90" style="font-size:8.80px" text-anchor="middle" fill="#ffffff" stroke-width="0" textLength="13.35" lengthAdjust="spacingAndGlyphs">496</text>
<ellipse cx="290" cy="199" rx="56" ry="46" fill="#e6e6e6" stroke="#3a3a3a" stroke-width="0.8"/>
<circle cx="287" cy="199.5" r="36.5" fill="#076634"/>
<circle cx="296" cy="199.5" r="39" fill="#ff6a00"/>
<clipPath id="clip199"><circle cx="287" cy="199.5" r="36.5"/></clipPath>
<circle cx="296" cy="199.5" r="39" fill="#ff0000" clip-path="url(#clip199)"/>
<text x="288.50" y="149.30" style="font-size:9.02px" text-anchor="middle" stroke="#1a1a1a" textLength="19.44" lengthAdjust="spacingAndGlyphs">ATF3</text>
<text x="259.00" y="201.80" style="font-size:8.80px" text-anchor="middle" fill="#ffffff" stroke-width="0" textLength="17.80" lengthAdjust="spacingAndGlyphs">1925</text>
<text x="289.50" y="201.80" style="font-size:8.80px" text-anchor="middle" fill="#ffffff" stroke-width="0" textLength="23.87" lengthAdjust="spacingAndGlyphs">11,533</text>
<text x="323.00" y="201.80" style="font-size:8.80px" text-anchor="middle" fill="#ffffff" stroke-width="0" textLength="17.80" lengthAdjust="spacingAndGlyphs">3547</text>
<ellipse cx="291" cy="329.8" rx="56" ry="46" fill="#e6e6e6" stroke="#3a3a3a" stroke-width="0.8"/>
<circle cx="284.6" cy="332.8" r="34.8" fill="#076634"/>
<circle cx="302.4" cy="332.4" r="32.6" fill="#ff6a00"/>
<clipPath id="clip329"><circle cx="284.6" cy="332.8" r="34.8"/></clipPath>
<circle cx="302.4" cy="332.4" r="32.6" fill="#ff0000" clip-path="url(#clip329)"/>
<text x="289.50" y="279.60" style="font-size:9.02px" text-anchor="middle" stroke="#1a1a1a" textLength="19.14" lengthAdjust="spacingAndGlyphs">JunD</text>
<text x="259.80" y="335.80" style="font-size:8.80px" text-anchor="middle" fill="#ffffff" stroke-width="0" textLength="17.80" lengthAdjust="spacingAndGlyphs">5052</text>
<text x="292.80" y="335.80" style="font-size:8.80px" text-anchor="middle" fill="#ffffff" stroke-width="0" textLength="17.80" lengthAdjust="spacingAndGlyphs">8099</text>
<text x="322.60" y="335.80" style="font-size:8.80px" text-anchor="middle" fill="#ffffff" stroke-width="0" textLength="17.80" lengthAdjust="spacingAndGlyphs">3103</text>
<rect x="244.3" y="382.3" width="8" height="8" fill="#076634" stroke="#333" stroke-width="0.6"/>
<text x="254.80" y="389.50" style="font-size:9.02px" stroke="#1a1a1a" textLength="60.92" lengthAdjust="spacingAndGlyphs">Lost in PPAR&#947;ko</text>
<rect x="244.3" y="395.8" width="8" height="8" fill="#ff0000" stroke="#333" stroke-width="0.6"/>
<text x="254.80" y="403.00" style="font-size:9.02px" stroke="#1a1a1a" textLength="87.36" lengthAdjust="spacingAndGlyphs">Unchanged in PPAR&#947;ko</text>
<rect x="244.3" y="409" width="8" height="8" fill="#ff6a00" stroke="#333" stroke-width="0.6"/>
<text x="254.80" y="416.20" style="font-size:9.02px" stroke="#1a1a1a" textLength="71.86" lengthAdjust="spacingAndGlyphs">Gained in PPAR&#947;ko</text>
<rect x="244.3" y="422.4" width="8" height="8" fill="#e6e6e6" stroke="#333" stroke-width="0.6"/>
<text x="254.80" y="429.60" style="font-size:9.02px" stroke="#1a1a1a" textLength="73.68" lengthAdjust="spacingAndGlyphs">PPAR&#947; binding sites</text>
<text x="0.80" y="473.30" style="font-size:9.02px" stroke="#1a1a1a" textLength="44.52" lengthAdjust="spacingAndGlyphs">Jun ChIP in:</text>
<rect x="0" y="478" width="7" height="7.4" fill="#1f9a3a" stroke="#222" stroke-width="0.5"/>
<text x="10.70" y="485.00" style="font-size:9.02px" stroke="#1a1a1a" textLength="12.75" lengthAdjust="spacingAndGlyphs">WT</text>
<rect x="0" y="489.5" width="7" height="7.4" fill="#2b0a6b" stroke="#222" stroke-width="0.5"/>
<text x="10.70" y="496.50" style="font-size:9.02px" stroke="#1a1a1a" textLength="37.67" lengthAdjust="spacingAndGlyphs">PPAR&#947;KO</text>
<rect x="0" y="517.3" width="7" height="7.4" fill="#6b6b6b" stroke="#222" stroke-width="0.5"/>
<text x="10.70" y="524.30" style="font-size:9.02px" stroke="#1a1a1a" textLength="25.82" lengthAdjust="spacingAndGlyphs">PPAR&#947;</text>
<rect x="96.8" y="463.5" width="62.89999999999999" height="72.0" fill="none" stroke="#333" stroke-width="0.9"/>
<path d="M96.8 499.8H159.7" stroke="#333" stroke-width="0.9"/>
<text x="91.80" y="480.80" style="font-size:9.02px" text-anchor="end" stroke="#1a1a1a" textLength="9.12" lengthAdjust="spacingAndGlyphs">40</text>
<text x="91.80" y="501.40" style="font-size:9.02px" text-anchor="end" stroke="#1a1a1a" textLength="4.56" lengthAdjust="spacingAndGlyphs">0</text>
<text x="91.80" y="514.10" style="font-size:9.02px" text-anchor="end" stroke="#1a1a1a" textLength="9.12" lengthAdjust="spacingAndGlyphs">40</text>
<text x="91.80" y="537.70" style="font-size:9.02px" text-anchor="end" stroke="#1a1a1a" textLength="4.56" lengthAdjust="spacingAndGlyphs">0</text>
<path d="M92.8 477.9H96.8M92.8 498.5H96.8M92.8 511.2H96.8M92.8 534.8H96.8" stroke="#333" stroke-width="0.8"/>
<text x="129.60" y="451.00" style="font-size:9.02px" text-anchor="middle" stroke="#1a1a1a" textLength="44.99" lengthAdjust="spacingAndGlyphs">117,780,000</text>
<path d="M129.4 453V456.2" stroke="#333" stroke-width="0.7"/>
<text x="84.00" y="544.60" style="font-size:9.02px" stroke="#1a1a1a" textLength="15.50" lengthAdjust="spacingAndGlyphs">5 kb</text>
<path d="M104 541.5H154.5M104 539.5V543.5M154.5 539.5V543.5" stroke="#444" stroke-width="0.8"/>
<rect x="197.2" y="463.4" width="63.10000000000002" height="71.30000000000007" fill="none" stroke="#333" stroke-width="0.9"/>
<path d="M197.2 498.7H260.3" stroke="#333" stroke-width="0.9"/>
<text x="192.20" y="479.20" style="font-size:9.02px" text-anchor="end" stroke="#1a1a1a" textLength="9.12" lengthAdjust="spacingAndGlyphs">30</text>
<text x="192.20" y="501.30" style="font-size:9.02px" text-anchor="end" stroke="#1a1a1a" textLength="4.56" lengthAdjust="spacingAndGlyphs">0</text>
<text x="192.20" y="512.30" style="font-size:9.02px" text-anchor="end" stroke="#1a1a1a" textLength="9.12" lengthAdjust="spacingAndGlyphs">30</text>
<text x="192.20" y="537.60" style="font-size:9.02px" text-anchor="end" stroke="#1a1a1a" textLength="4.56" lengthAdjust="spacingAndGlyphs">0</text>
<path d="M193.2 476.3H197.2M193.2 498.4H197.2M193.2 509.4H197.2M193.2 534.7H197.2" stroke="#333" stroke-width="0.8"/>
<text x="235.40" y="451.00" style="font-size:9.02px" text-anchor="middle" stroke="#1a1a1a" textLength="41.04" lengthAdjust="spacingAndGlyphs">62,350,000</text>
<path d="M234.4 453V456.2" stroke="#333" stroke-width="0.7"/>
<text x="185.30" y="544.60" style="font-size:9.02px" stroke="#1a1a1a" textLength="15.50" lengthAdjust="spacingAndGlyphs">5 kb</text>
<path d="M203.5 541.5H253.7M203.5 539.5V543.5M253.7 539.5V543.5" stroke="#444" stroke-width="0.8"/>
<rect x="293.2" y="463.8" width="62.0" height="71.19999999999999" fill="none" stroke="#333" stroke-width="0.9"/>
<path d="M293.2 498.7H355.2" stroke="#333" stroke-width="0.9"/>
<text x="288.20" y="477.50" style="font-size:9.02px" text-anchor="end" stroke="#1a1a1a" textLength="9.12" lengthAdjust="spacingAndGlyphs">17</text>
<text x="288.20" y="499.90" style="font-size:9.02px" text-anchor="end" stroke="#1a1a1a" textLength="4.56" lengthAdjust="spacingAndGlyphs">0</text>
<text x="288.20" y="510.80" style="font-size:9.02px" text-anchor="end" stroke="#1a1a1a" textLength="9.12" lengthAdjust="spacingAndGlyphs">17</text>
<text x="288.20" y="536.90" style="font-size:9.02px" text-anchor="end" stroke="#1a1a1a" textLength="4.56" lengthAdjust="spacingAndGlyphs">0</text>
<path d="M289.2 474.6H293.2M289.2 497H293.2M289.2 507.9H293.2M289.2 534H293.2" stroke="#333" stroke-width="0.8"/>
<text x="332.20" y="451.00" style="font-size:9.02px" text-anchor="middle" stroke="#1a1a1a" textLength="41.04" lengthAdjust="spacingAndGlyphs">61,140,000</text>
<path d="M332.2 453V456.2" stroke="#333" stroke-width="0.7"/>
<text x="281.30" y="544.60" style="font-size:9.02px" stroke="#1a1a1a" textLength="15.50" lengthAdjust="spacingAndGlyphs">5 kb</text>
<path d="M300.3 541.5H351M300.3 539.5V543.5M351 539.5V543.5" stroke="#444" stroke-width="0.8"/>
<text x="295.00" y="472.30" style="font-size:8.80px" stroke="#1a1a1a" textLength="19.56" lengthAdjust="spacingAndGlyphs">Chr2:</text>
<text x="199.50" y="472.30" style="font-size:8.80px" stroke="#1a1a1a" textLength="17.34" lengthAdjust="spacingAndGlyphs">Chr4</text>
<text x="99.00" y="472.30" style="font-size:8.80px" stroke="#1a1a1a" textLength="24.01" lengthAdjust="spacingAndGlyphs">Chr1 1</text>
<text x="75.30" y="499.70" style="font-size:9.02px" text-anchor="middle" stroke="#1a1a1a" transform="rotate(-90 75.3 499.7)" textLength="59.70" lengthAdjust="spacingAndGlyphs">NormTag counts</text>
<text x="73.40" y="456.10" style="font-size:9.02px" fill="#2a2a88" stroke="#2a2a88" font-style="italic" textLength="20.50" lengthAdjust="spacingAndGlyphs">Tmc6</text>
<text x="171.00" y="456.40" style="font-size:9.02px" fill="#2a2a88" stroke="#2a2a88" font-style="italic" textLength="27.35" lengthAdjust="spacingAndGlyphs">Fkbp15</text>
<path d="M84.5 460.9H136" stroke="#22228a" stroke-width="0.9" stroke-dasharray="1.3 0.4"/>
<path d="M84 459.2h4v3.4h-4zM89.6 459.2h1v3.4h-1zM91.6 459.2h1v3.4h-1zM112 459.2h1.4v3.4h-1.4zM115.8 459.2h1.2v3.4h-1.2zM117.9 459.2h1.1v3.4h-1.1zM120.2 459.2h1.2v3.4h-1.2zM135.3 459.8h1v2.2h-1z" fill="#22228a"/>
<path d="M185.3 460.6H261" stroke="#22228a" stroke-width="0.7" stroke-dasharray="1.2 0.5"/><path d="M185 459h0.9v3.4h-0.9z" fill="#22228a"/>
<path d="M97.5 499.6L97.5 499.6L98.0 499.6L98.5 497.9L99.0 497.3L99.5 498.1L100.0 498.6L100.5 499.6L101.0 499.6L101.5 499.6L102.0 499.6L102.5 499.6L103.0 499.6L103.5 499.6L104.0 499.6L104.5 499.6L105.0 499.6L105.5 499.6L106.0 499.6L106.5 499.6L107.0 499.6L107.5 499.6L108.0 499.6L108.5 499.6L109.0 499.6L109.5 499.6L110.0 499.6L110.5 499.6L111.0 499.6L111.5 499.6L112.0 499.6L112.5 499.6L113.0 499.6L113.5 499.6L114.0 499.6L114.5 499.6L115.0 498.7L115.5 497.5L116.0 496.8L116.5 497.1L117.0 498.8L117.5 499.6L118.0 499.6L118.5 499.6L119.0 499.6L119.5 499.6L120.0 499.6L120.5 499.6L121.0 499.6L121.5 497.8L122.0 496.4L122.5 496.3L123.0 495.6L123.5 495.0L124.0 494.8L124.5 492.5L125.0 488.4L125.5 481.3L126.0 476.4L126.5 476.1L127.0 480.2L127.5 484.7L128.0 487.7L128.5 493.2L129.0 495.7L129.5 497.3L130.0 497.5L130.5 495.5L131.0 492.6L131.5 490.3L132.0 489.9L132.5 492.2L133.0 494.8L133.5 497.9L134.0 499.6L134.5 499.6L135.0 499.6L135.5 499.6L136.0 499.6L136.5 497.6L137.0 494.8L137.5 491.1L138.0 488.6L138.5 484.5L139.0 486.5L139.5 489.2L140.0 490.2L140.5 492.7L141.0 493.5L141.5 494.0L142.0 494.0L142.5 493.4L143.0 494.6L143.5 496.1L144.0 497.1L144.5 495.5L145.0 489.5L145.5 480.3L146.0 471.8L146.5 468.0L147.0 469.1L147.5 474.9L148.0 479.2L148.5 484.8L149.0 490.0L149.5 494.2L150.0 498.3L150.5 498.9L151.0 497.9L151.5 496.5L152.0 495.5L152.5 495.8L153.0 497.0L153.5 498.1L154.0 499.6L154.5 499.6L155.0 499.6L155.5 499.6L156.0 499.6L156.5 499.6L157.0 499.6L157.5 499.6L158.0 499.6L158.5 499.6L159.0 499.6L159.0 499.6Z" fill="#1e9e3c"/><path d="M97.5 499.6L97.5 499.6L98.0 499.6L98.5 499.6L99.0 499.6L99.5 499.6L100.0 499.6L100.5 499.6L101.0 499.6L101.5 499.6L102.0 499.6L102.5 499.6L103.0 499.6L103.5 499.6L104.0 499.2L104.5 498.2L105.0 498.6L105.5 497.9L106.0 497.9L106.5 498.0L107.0 498.3L107.5 499.2L108.0 498.7L108.5 498.2L109.0 498.7L109.5 498.3L110.0 498.2L110.5 498.1L111.0 499.0L111.5 498.5L112.0 499.6L112.5 499.6L113.0 499.6L113.5 499.6L114.0 499.6L114.5 499.6L115.0 499.6L115.5 499.6L116.0 499.6L116.5 499.6L117.0 499.6L117.5 499.6L118.0 499.6L118.5 499.6L119.0 499.6L119.5 498.7L120.0 499.1L120.5 498.9L121.0 497.9L121.5 497.8L122.0 497.9L122.5 498.8L123.0 498.4L123.5 498.9L124.0 498.9L124.5 499.6L125.0 498.8L125.5 498.9L126.0 498.4L126.5 498.6L127.0 498.0L127.5 497.7L128.0 499.1L128.5 498.9L129.0 499.0L129.5 499.6L130.0 498.8L130.5 499.0L131.0 498.2L131.5 498.3L132.0 498.2L132.5 498.0L133.0 498.4L133.5 498.3L134.0 499.6L134.5 499.6L135.0 499.6L135.5 499.6L136.0 499.6L136.5 499.0L137.0 499.6L137.5 498.8L138.0 499.1L138.5 498.4L139.0 498.5L139.5 498.3L140.0 498.0L140.5 497.4L141.0 498.7L141.5 498.6L142.0 498.2L142.5 498.9L143.0 498.2L143.5 498.8L144.0 498.8L144.5 498.5L145.0 498.0L145.5 498.0L146.0 497.9L146.5 498.0L147.0 498.4L147.5 498.4L148.0 497.8L148.5 498.0L149.0 498.3L149.5 498.6L150.0 499.6L150.5 499.1L151.0 499.6L151.5 499.6L152.0 499.6L152.5 499.6L153.0 499.6L153.5 499.6L154.0 499.6L154.5 499.6L155.0 499.6L155.5 499.6L156.0 499.6L156.5 499.6L157.0 499.6L157.5 499.6L158.0 499.6L158.5 499.6L159.0 499.6L159.0 499.6Z" fill="#2e0a70"/><path d="M97.5 535.2L97.5 534.1L98.0 534.4L98.5 534.0L99.0 534.1L99.5 533.8L100.0 533.4L100.5 533.9L101.0 534.1L101.5 534.2L102.0 533.3L102.5 532.4L103.0 532.4L103.5 531.4L104.0 533.5L104.5 534.5L105.0 534.2L105.5 535.2L106.0 535.2L106.5 535.2L107.0 535.2L107.5 535.2L108.0 535.2L108.5 535.2L109.0 535.2L109.5 535.2L110.0 535.2L110.5 534.0L111.0 533.5L111.5 532.2L112.0 531.9L112.5 532.2L113.0 533.3L113.5 533.8L114.0 533.7L114.5 534.3L115.0 534.4L115.5 534.3L116.0 534.0L116.5 533.8L117.0 534.7L117.5 534.0L118.0 533.4L118.5 533.8L119.0 534.3L119.5 534.6L120.0 535.2L120.5 534.6L121.0 533.7L121.5 534.2L122.0 533.9L122.5 532.9L123.0 530.0L123.5 526.5L124.0 521.6L124.5 515.1L125.0 508.0L125.5 505.2L126.0 500.3L126.5 502.7L127.0 509.1L127.5 514.7L128.0 520.3L128.5 525.2L129.0 528.9L129.5 528.8L130.0 530.6L130.5 532.6L131.0 534.4L131.5 535.2L132.0 535.2L132.5 535.2L133.0 535.2L133.5 534.6L134.0 534.1L134.5 533.0L135.0 532.0L135.5 530.0L136.0 527.1L136.5 524.2L137.0 520.8L137.5 518.9L138.0 514.2L138.5 513.8L139.0 516.9L139.5 522.2L140.0 521.4L140.5 525.5L141.0 529.1L141.5 531.2L142.0 533.6L142.5 534.3L143.0 535.2L143.5 535.2L144.0 534.5L144.5 533.3L145.0 530.3L145.5 527.9L146.0 526.4L146.5 526.9L147.0 527.0L147.5 529.1L148.0 529.5L148.5 530.3L149.0 532.0L149.5 533.4L150.0 533.8L150.5 532.6L151.0 533.0L151.5 533.1L152.0 534.1L152.5 535.2L153.0 535.2L153.5 535.2L154.0 535.2L154.5 535.2L155.0 535.2L155.5 535.2L156.0 535.2L156.5 535.2L157.0 535.2L157.5 535.2L158.0 535.2L158.5 535.2L159.0 535.2L159.0 535.2Z" fill="#6a6a6a"/><path d="M198.0 498.2L198.0 497.1L198.5 497.4L199.0 497.0L199.5 496.2L200.0 496.9L200.5 497.1L201.0 497.2L201.5 497.3L202.0 498.2L202.5 497.5L203.0 497.1L203.5 498.2L204.0 498.2L204.5 498.2L205.0 498.2L205.5 498.2L206.0 498.2L206.5 498.2L207.0 497.5L207.5 498.2L208.0 497.5L208.5 498.2L209.0 497.4L209.5 498.2L210.0 497.2L210.5 498.2L211.0 498.2L211.5 497.1L212.0 497.5L212.5 496.7L213.0 497.2L213.5 498.2L214.0 496.8L214.5 494.3L215.0 491.6L215.5 488.8L216.0 491.6L216.5 494.5L217.0 496.4L217.5 497.3L218.0 498.2L218.5 498.2L219.0 498.2L219.5 498.2L220.0 498.2L220.5 498.2L221.0 498.2L221.5 498.2L222.0 498.2L222.5 497.0L223.0 495.3L223.5 494.1L224.0 494.0L224.5 495.6L225.0 498.2L225.5 498.2L226.0 498.2L226.5 498.2L227.0 498.2L227.5 498.2L228.0 498.2L228.5 496.5L229.0 493.2L229.5 485.8L230.0 478.7L230.5 467.5L231.0 464.0L231.5 466.7L232.0 474.3L232.5 481.7L233.0 487.0L233.5 492.3L234.0 495.2L234.5 497.0L235.0 497.5L235.5 498.2L236.0 498.2L236.5 498.2L237.0 498.2L237.5 498.2L238.0 498.2L238.5 498.2L239.0 498.2L239.5 497.1L240.0 496.4L240.5 495.8L241.0 496.3L241.5 496.7L242.0 497.4L242.5 498.2L243.0 498.2L243.5 498.2L244.0 498.2L244.5 498.2L245.0 498.2L245.5 497.4L246.0 497.4L246.5 497.2L247.0 497.4L247.5 498.2L248.0 498.2L248.5 498.2L249.0 498.2L249.5 498.2L250.0 498.2L250.5 498.2L251.0 498.2L251.5 498.2L252.0 498.2L252.5 498.2L253.0 498.2L253.5 498.2L254.0 498.2L254.5 498.2L255.0 498.2L255.5 498.2L256.0 498.2L256.5 498.2L257.0 498.2L257.5 498.2L258.0 498.2L258.5 498.2L259.0 498.2L259.5 498.2L259.5 498.2Z" fill="#1e9e3c"/><path d="M198.0 498.2L198.0 498.2L198.5 498.2L199.0 498.2L199.5 498.2L200.0 498.2L200.5 498.2L201.0 498.2L201.5 498.2L202.0 498.2L202.5 498.2L203.0 498.2L203.5 498.2L204.0 498.2L204.5 498.2L205.0 498.2L205.5 498.2L206.0 498.2L206.5 498.2L207.0 498.2L207.5 498.2L208.0 498.2L208.5 498.2L209.0 498.2L209.5 498.2L210.0 498.2L210.5 498.2L211.0 498.2L211.5 498.2L212.0 498.2L212.5 497.5L213.0 497.4L213.5 497.0L214.0 497.4L214.5 496.9L215.0 497.5L215.5 497.7L216.0 497.2L216.5 497.5L217.0 497.5L217.5 497.6L218.0 496.7L218.5 496.6L219.0 497.8L219.5 497.7L220.0 498.2L220.5 498.2L221.0 498.2L221.5 498.2L222.0 498.2L222.5 498.2L223.0 498.2L223.5 498.2L224.0 498.2L224.5 497.7L225.0 497.3L225.5 496.9L226.0 496.7L226.5 496.9L227.0 497.4L227.5 497.8L228.0 497.7L228.5 497.4L229.0 497.0L229.5 496.8L230.0 495.8L230.5 496.7L231.0 497.0L231.5 497.0L232.0 497.1L232.5 497.2L233.0 498.2L233.5 498.2L234.0 498.2L234.5 498.2L235.0 498.2L235.5 498.2L236.0 498.2L236.5 498.2L237.0 498.2L237.5 498.2L238.0 498.2L238.5 498.2L239.0 498.2L239.5 498.2L240.0 498.2L240.5 498.2L241.0 498.2L241.5 498.2L242.0 498.2L242.5 498.2L243.0 498.2L243.5 498.2L244.0 497.7L244.5 497.1L245.0 496.9L245.5 497.6L246.0 498.2L246.5 498.2L247.0 498.2L247.5 498.2L248.0 498.2L248.5 498.2L249.0 498.2L249.5 498.2L250.0 498.2L250.5 498.2L251.0 498.2L251.5 498.2L252.0 498.2L252.5 498.2L253.0 497.5L253.5 497.4L254.0 497.0L254.5 497.4L255.0 497.4L255.5 497.6L256.0 498.2L256.5 498.2L257.0 498.2L257.5 498.2L258.0 498.2L258.5 498.2L259.0 498.2L259.5 498.2L259.5 498.2Z" fill="#2e0a70"/><path d="M198.0 535.4L198.0 535.4L198.5 535.4L199.0 535.4L199.5 535.4L200.0 534.4L200.5 534.1L201.0 532.8L201.5 532.7L202.0 532.6L202.5 533.8L203.0 534.0L203.5 533.4L204.0 533.2L204.5 532.9L205.0 534.2L205.5 535.4L206.0 535.4L206.5 535.4L207.0 535.4L207.5 535.4L208.0 535.4L208.5 535.4L209.0 535.4L209.5 535.4L210.0 535.4L210.5 535.4L211.0 535.4L211.5 535.4L212.0 535.4L212.5 535.4L213.0 535.4L213.5 534.6L214.0 534.6L214.5 533.9L215.0 533.3L215.5 533.2L216.0 534.4L216.5 534.8L217.0 535.4L217.5 535.4L218.0 535.4L218.5 535.4L219.0 535.4L219.5 535.4L220.0 535.4L220.5 535.4L221.0 535.4L221.5 535.4L222.0 535.4L222.5 535.4L223.0 535.4L223.5 535.4L224.0 535.4L224.5 535.4L225.0 535.4L225.5 535.4L226.0 534.3L226.5 533.5L227.0 532.9L227.5 532.5L228.0 529.9L228.5 528.8L229.0 524.7L229.5 522.2L230.0 518.9L230.5 516.6L231.0 521.0L231.5 525.1L232.0 528.6L232.5 530.1L233.0 531.8L233.5 532.6L234.0 533.6L234.5 534.5L235.0 535.4L235.5 535.4L236.0 535.4L236.5 535.4L237.0 535.4L237.5 535.4L238.0 534.8L238.5 534.6L239.0 533.6L239.5 533.1L240.0 533.0L240.5 533.5L241.0 534.5L241.5 534.6L242.0 534.5L242.5 535.4L243.0 535.4L243.5 535.4L244.0 535.4L244.5 535.4L245.0 535.4L245.5 535.4L246.0 535.4L246.5 535.4L247.0 535.4L247.5 535.4L248.0 534.5L248.5 534.7L249.0 533.7L249.5 533.1L250.0 532.3L250.5 533.0L251.0 533.4L251.5 534.8L252.0 534.3L252.5 535.4L253.0 535.4L253.5 535.4L254.0 535.4L254.5 535.4L255.0 535.4L255.5 535.4L256.0 535.4L256.5 535.4L257.0 535.4L257.5 535.4L258.0 535.4L258.5 535.4L259.0 535.4L259.5 535.4L259.5 535.4Z" fill="#6a6a6a"/><path d="M294.0 498.2L294.0 498.2L294.5 495.9L295.0 495.0L295.5 495.0L296.0 494.8L296.5 494.4L297.0 495.6L297.5 496.7L298.0 496.5L298.5 497.0L299.0 495.9L299.5 494.7L300.0 494.7L300.5 495.7L301.0 496.3L301.5 497.2L302.0 496.7L302.5 496.8L303.0 495.9L303.5 494.5L304.0 494.3L304.5 494.6L305.0 496.5L305.5 496.8L306.0 497.4L306.5 498.2L307.0 498.2L307.5 498.2L308.0 498.2L308.5 498.2L309.0 497.3L309.5 496.7L310.0 495.3L310.5 494.5L311.0 492.0L311.5 492.6L312.0 493.9L312.5 494.7L313.0 494.3L313.5 493.2L314.0 492.9L314.5 491.0L315.0 490.4L315.5 491.3L316.0 492.5L316.5 489.4L317.0 487.9L317.5 487.1L318.0 481.2L318.5 476.2L319.0 477.8L319.5 469.2L320.0 468.9L320.5 474.8L321.0 484.0L321.5 483.8L322.0 486.5L322.5 490.1L323.0 492.5L323.5 492.3L324.0 491.2L324.5 491.3L325.0 491.8L325.5 493.6L326.0 494.2L326.5 494.8L327.0 496.0L327.5 496.6L328.0 495.3L328.5 495.2L329.0 494.7L329.5 495.2L330.0 496.5L330.5 496.5L331.0 497.5L331.5 497.5L332.0 498.2L332.5 497.0L333.0 496.6L333.5 496.4L334.0 496.0L334.5 496.4L335.0 496.8L335.5 497.2L336.0 498.2L336.5 498.2L337.0 498.2L337.5 498.2L338.0 498.2L338.5 498.2L339.0 498.2L339.5 498.2L340.0 498.2L340.5 498.2L341.0 498.2L341.5 498.2L342.0 498.2L342.5 498.2L343.0 498.2L343.5 498.2L344.0 498.2L344.5 498.2L345.0 498.2L345.5 498.2L346.0 498.2L346.5 498.2L347.0 498.2L347.5 498.2L348.0 498.2L348.5 498.2L349.0 498.2L349.5 498.2L350.0 498.2L350.5 498.2L351.0 498.2L351.5 498.2L352.0 498.2L352.5 498.2L353.0 498.2L353.5 498.2L354.0 498.2L354.5 498.2L355.0 498.2L355.0 498.2Z" fill="#1e9e3c"/><path d="M294.0 498.2L294.0 497.4L294.5 496.3L295.0 495.8L295.5 495.4L296.0 495.5L296.5 496.6L297.0 495.6L297.5 495.9L298.0 496.8L298.5 495.1L299.0 495.8L299.5 496.1L300.0 496.7L300.5 497.4L301.0 497.8L301.5 498.2L302.0 498.2L302.5 498.2L303.0 498.2L303.5 498.2L304.0 498.2L304.5 498.2L305.0 498.2L305.5 498.2L306.0 498.2L306.5 498.2L307.0 498.2L307.5 498.2L308.0 498.2L308.5 498.2L309.0 497.5L309.5 497.0L310.0 496.3L310.5 495.1L311.0 493.7L311.5 493.8L312.0 494.5L312.5 495.1L313.0 496.0L313.5 497.7L314.0 498.2L314.5 498.2L315.0 498.2L315.5 498.2L316.0 498.2L316.5 497.4L317.0 496.9L317.5 495.7L318.0 494.9L318.5 494.1L319.0 493.3L319.5 492.8L320.0 493.6L320.5 494.6L321.0 494.8L321.5 496.2L322.0 497.2L322.5 497.4L323.0 497.5L323.5 498.2L324.0 498.2L324.5 498.2L325.0 498.2L325.5 498.2L326.0 498.2L326.5 498.2L327.0 498.2L327.5 498.2L328.0 497.3L328.5 496.5L329.0 496.9L329.5 496.4L330.0 495.8L330.5 496.0L331.0 496.8L331.5 496.4L332.0 498.2L332.5 497.8L333.0 498.2L333.5 498.2L334.0 498.2L334.5 498.2L335.0 498.2L335.5 498.2L336.0 498.2L336.5 498.2L337.0 498.2L337.5 498.2L338.0 498.2L338.5 498.2L339.0 498.2L339.5 498.2L340.0 498.2L340.5 498.2L341.0 498.2L341.5 498.2L342.0 498.2L342.5 498.2L343.0 497.3L343.5 496.8L344.0 495.8L344.5 495.3L345.0 495.3L345.5 495.9L346.0 496.3L346.5 496.8L347.0 498.2L347.5 497.2L348.0 497.6L348.5 496.9L349.0 496.6L349.5 496.0L350.0 495.3L350.5 496.9L351.0 496.4L351.5 496.3L352.0 497.7L352.5 497.7L353.0 498.2L353.5 498.2L354.0 498.2L354.5 498.2L355.0 498.2L355.0 498.2Z" fill="#2e0a70"/><path d="M294.0 534.7L294.0 534.7L294.5 534.7L295.0 534.7L295.5 534.7L296.0 534.7L296.5 534.7L297.0 534.7L297.5 534.7L298.0 534.7L298.5 534.1L299.0 533.2L299.5 533.2L300.0 531.8L300.5 532.6L301.0 533.6L301.5 534.7L302.0 534.7L302.5 534.7L303.0 534.7L303.5 534.7L304.0 534.7L304.5 534.7L305.0 534.7L305.5 534.7L306.0 534.7L306.5 534.7L307.0 534.7L307.5 534.7L308.0 534.7L308.5 534.7L309.0 533.1L309.5 530.6L310.0 529.0L310.5 525.2L311.0 523.7L311.5 523.7L312.0 522.7L312.5 524.4L313.0 520.0L313.5 523.1L314.0 529.3L314.5 531.2L315.0 530.4L315.5 529.8L316.0 529.1L316.5 529.5L317.0 529.3L317.5 527.8L318.0 521.8L318.5 513.3L319.0 506.5L319.5 504.5L320.0 510.0L320.5 513.4L321.0 516.0L321.5 519.5L322.0 520.2L322.5 521.8L323.0 522.1L323.5 522.3L324.0 523.5L324.5 524.7L325.0 527.4L325.5 529.4L326.0 530.1L326.5 531.3L327.0 531.6L327.5 530.3L328.0 529.4L328.5 530.5L329.0 531.2L329.5 530.8L330.0 532.9L330.5 532.8L331.0 532.9L331.5 532.6L332.0 531.8L332.5 530.8L333.0 530.9L333.5 531.1L334.0 532.3L334.5 532.3L335.0 533.1L335.5 533.8L336.0 533.9L336.5 534.7L337.0 534.7L337.5 534.7L338.0 534.7L338.5 534.7L339.0 534.7L339.5 534.7L340.0 534.7L340.5 534.7L341.0 534.7L341.5 534.7L342.0 534.7L342.5 533.8L343.0 533.0L343.5 533.0L344.0 532.2L344.5 531.3L345.0 533.3L345.5 533.3L346.0 534.1L346.5 534.7L347.0 534.7L347.5 534.7L348.0 534.7L348.5 534.7L349.0 534.7L349.5 534.7L350.0 534.7L350.5 534.7L351.0 534.7L351.5 534.7L352.0 534.7L352.5 534.7L353.0 534.7L353.5 534.7L354.0 534.7L354.5 534.7L355.0 534.7L355.0 534.7Z" fill="#6a6a6a"/><path d="M97.5 498.8H101M105 498.8H112M119 498.8H124M128 498.8H152M198 497.5H202M212 497.5H220M224 497.5H234M244 497.5H258M294 497.5H300M309 497.5H322M326 497.5H333M344 497.5H355" stroke="#2e0a70" stroke-width="1.5"/>
<text x="38.40" y="574.80" style="font-size:9.02px" stroke="#1a1a1a" textLength="10.03" lengthAdjust="spacingAndGlyphs">IP:</text>
<text x="48.40" y="597.20" style="font-size:9.02px" text-anchor="end" stroke="#1a1a1a" textLength="35.85" lengthAdjust="spacingAndGlyphs">IB:PPAR&#947;</text>
<text x="29.80" y="607.60" style="font-size:9.02px" text-anchor="middle" stroke="#1a1a1a" textLength="23.69" lengthAdjust="spacingAndGlyphs">TGEM</text>
<text x="69.30" y="583.00" style="font-size:9.02px" stroke="#1a1a1a" transform="rotate(-40 69.3 583)" textLength="25.82" lengthAdjust="spacingAndGlyphs">PPAR&#947;</text>
<text x="87.60" y="583.00" style="font-size:9.02px" stroke="#1a1a1a" transform="rotate(-40 87.6 583)" textLength="23.70" lengthAdjust="spacingAndGlyphs">Rabbit</text>
<text x="106.20" y="583.00" style="font-size:9.02px" stroke="#1a1a1a" transform="rotate(-40 106.2 583)" textLength="19.44" lengthAdjust="spacingAndGlyphs">ATF3</text>
<text x="125.80" y="583.00" style="font-size:9.02px" stroke="#1a1a1a" transform="rotate(-40 125.8 583)" textLength="19.14" lengthAdjust="spacingAndGlyphs">JunD</text>
<text x="146.40" y="583.00" style="font-size:9.02px" stroke="#1a1a1a" transform="rotate(-40 146.4 583)" textLength="13.22" lengthAdjust="spacingAndGlyphs">Jun</text>
<rect x="53.3" y="585.0" width="106.6" height="24.8" fill="#8c8c8c"/><rect x="53.3" y="585.0" width="23.1" height="24.8" fill="#7c7c7c"/><path d="M58.8 594 Q59 591.8 62 592 L64.5 593.4 L67.5 592.2 L70.5 593.2 Q74.8 591.8 75 594 L75.2 609 L58.8 609Z" fill="#2c2c2c" filter="url(#blur1)" opacity="1"/><path d="M98 596.3 L112 596.8 L112 599.3 L98 599Z" fill="#6e6e6e" filter="url(#blur1)" opacity="1"/><path d="M119 597.2 Q119 595.2 122 595.4 L133.3 595 L133.5 600.8 L122 600.2 Q119 600 119 598Z" fill="#2a2a2a" filter="url(#blur1)" opacity="1"/><path d="M132.2 591 h1.6 v12 h-1.6z" fill="#505050" filter="url(#blur1)" opacity="1"/><path d="M136.8 585.5 L153.3 585.5 L154 609.5 L136.8 609.5Z" fill="#3a3a3a" filter="url(#blur08)" opacity="1"/><path d="M153.3 585.5 L159.9 585.5 L159.9 609.5 L154 609.5Z" fill="#6c6c6c" filter="url(#blur1)" opacity="1"/><path d="M139 587.5 h13 v4 h-13z" fill="#4e4e4e" filter="url(#blur1)" opacity="1"/><rect x="53.3" y="585.0" width="106.6" height="24.8" fill="none" stroke="#1a1a1a" stroke-width="0.9"/><rect x="37.7" y="640.0" width="35.1" height="19.9" fill="#9c9c9c"/><path d="M41.5 649 Q48 651.5 55 648.3 L55 655.5 Q48 657.5 41.5 655Z" fill="#2c2c2c" filter="url(#blur1)" opacity="1"/><path d="M55.3 648 Q62 650.5 68.8 647 L68.8 654.5 Q62 657 55.3 655Z" fill="#2c2c2c" filter="url(#blur1)" opacity="1"/><rect x="37.7" y="640.0" width="35.1" height="19.9" fill="none" stroke="#1a1a1a" stroke-width="0.9"/><rect x="37.7" y="664.2" width="35.1" height="19.2" fill="#a0a0a0"/><path d="M43 670.4 h10.6 v4.6 h-10.6z" fill="#303030" filter="url(#blur08)" opacity="1"/><path d="M56 670.6 h11.2 v4.3 h-11.2z" fill="#3a3a3a" filter="url(#blur08)" opacity="1"/><rect x="37.7" y="664.2" width="35.1" height="19.2" fill="none" stroke="#1a1a1a" stroke-width="0.9"/><rect x="133.1" y="640.0" width="34.7" height="19.5" fill="#8a8a8a"/><path d="M139.3 643.5 Q139.3 642 141.3 642 L150.4 642 Q151.4 642.5 151.4 644 L151.4 648 L139.3 648Z" fill="#2c2c2c" filter="url(#blur08)" opacity="1"/><path d="M139.3 650.5 L151.4 650.5 L151.4 654.5 Q151.4 656 149.4 656 L141.3 656 Q139.3 655.5 139.3 654Z" fill="#2c2c2c" filter="url(#blur08)" opacity="1"/><path d="M139.8 647 L150.9 647 L150.9 651.5 L139.8 651.5Z" fill="#3a3a3a" filter="url(#blur08)" opacity="1"/><path d="M152.4 643.5 Q152.4 642 154.4 642 L165.2 642 Q166.2 642.5 166.2 644 L166.2 648 L152.4 648Z" fill="#2c2c2c" filter="url(#blur08)" opacity="1"/><path d="M152.4 650.5 L166.2 650.5 L166.2 654.5 Q166.2 656 164.2 656 L154.4 656 Q152.4 655.5 152.4 654Z" fill="#2c2c2c" filter="url(#blur08)" opacity="1"/><path d="M152.9 647 L165.7 647 L165.7 651.5 L152.9 651.5Z" fill="#3a3a3a" filter="url(#blur08)" opacity="1"/><rect x="133.1" y="640.0" width="34.7" height="19.5" fill="none" stroke="#1a1a1a" stroke-width="0.9"/><rect x="133.1" y="664.2" width="34.7" height="18.6" fill="#8c8c8c"/><path d="M135.8 674.5 Q135.8 669.8 141 669.6 Q152 668.6 162 668.2 Q164.8 669 164.4 675 Q163 679.8 152 679.8 L141 680 Q135.8 679.8 135.8 674.5Z" fill="#242424" filter="url(#blur1)" opacity="1"/><rect x="133.1" y="664.2" width="34.7" height="18.6" fill="none" stroke="#1a1a1a" stroke-width="0.9"/><rect x="241.3" y="621.3" width="89.0" height="25.1" fill="#adadad"/><path d="M250.4 633 L265.5 633.2 L265.5 635.4 L250.4 635.2Z" fill="#7a7a7a" filter="url(#blur08)" opacity="1"/><path d="M250.4 637.3 L265.5 637.5 L265.5 639.7 L250.4 639.5Z" fill="#747474" filter="url(#blur08)" opacity="1"/><path d="M251 630 h14 v12 h-14z" fill="#9a9a9a" filter="url(#blur1)" opacity="0.6"/><path d="M267.8 626 Q268 622.8 271 623.2 L273.5 625 L276 623.5 L278.5 626.5 Q282 622.5 286 623.5 L286.4 643.5 L267.8 643.5Z" fill="#2a2a2a" filter="url(#blur08)" opacity="1"/><rect x="241.3" y="621.3" width="89.0" height="25.1" fill="none" stroke="#1a1a1a" stroke-width="0.9"/><rect x="241.3" y="659.3" width="89.0" height="24.8" fill="#aaaaaa"/><path d="M249 673.5 Q249 672.8 252 672.8 L263.5 673 Q264.5 675.5 263.5 678.3 L252 678.6 Q249 678.5 249 676Z" fill="#3a3a3a" filter="url(#blur1)" opacity="1"/><path d="M268.3 672.2 L283.5 671.8 Q284.5 674.5 283.5 677 L268.3 677.4 Q267.5 675 268.3 672.2Z" fill="#404040" filter="url(#blur1)" opacity="1"/><path d="M289 672.2 L301.4 671.8 L301.4 675.3 L289 675.6Z" fill="#7e7e7e" filter="url(#blur1)" opacity="1"/><path d="M308.2 670.5 L323.4 670.2 L323.4 673.8 L308.2 674Z" fill="#9a9a9a" filter="url(#blur1)" opacity="1"/><rect x="241.3" y="659.3" width="89.0" height="24.8" fill="none" stroke="#1a1a1a" stroke-width="0.9"/>
<text x="160.80" y="593.90" style="font-size:9.02px" stroke="#1a1a1a" textLength="28.71" lengthAdjust="spacingAndGlyphs">-62 kDa</text>
<text x="13.60" y="642.30" style="font-size:9.02px" stroke="#1a1a1a" textLength="10.03" lengthAdjust="spacingAndGlyphs">IB:</text>
<text x="13.60" y="651.40" style="font-size:9.02px" stroke="#1a1a1a" textLength="19.44" lengthAdjust="spacingAndGlyphs">ATF3</text>
<text x="34.00" y="676.80" style="font-size:9.02px" text-anchor="end" stroke="#1a1a1a" textLength="13.22" lengthAdjust="spacingAndGlyphs">Jun</text>
<text x="74.00" y="655.80" style="font-size:9.02px" stroke="#1a1a1a" textLength="28.71" lengthAdjust="spacingAndGlyphs">-17 kDa</text>
<text x="74.00" y="683.10" style="font-size:9.02px" stroke="#1a1a1a" textLength="28.71" lengthAdjust="spacingAndGlyphs">-38 kDa</text>
<text x="110.60" y="642.30" style="font-size:9.02px" stroke="#1a1a1a" textLength="10.03" lengthAdjust="spacingAndGlyphs">IB:</text>
<text x="110.60" y="652.90" style="font-size:9.02px" stroke="#1a1a1a" textLength="19.14" lengthAdjust="spacingAndGlyphs">JunD</text>
<text x="131.00" y="676.40" style="font-size:9.02px" text-anchor="end" stroke="#1a1a1a" textLength="18.23" lengthAdjust="spacingAndGlyphs">Actin</text>
<text x="168.80" y="654.30" style="font-size:9.02px" stroke="#1a1a1a" textLength="28.71" lengthAdjust="spacingAndGlyphs">-38 kDa</text>
<text x="168.80" y="683.10" style="font-size:9.02px" stroke="#1a1a1a" textLength="28.71" lengthAdjust="spacingAndGlyphs">-38 kDa</text>
<text x="49.00" y="637.70" style="font-size:9.02px" stroke="#1a1a1a" transform="rotate(-40 49 637.7)" textLength="12.75" lengthAdjust="spacingAndGlyphs">WT</text>
<text x="64.80" y="635.30" style="font-size:9.02px" stroke="#1a1a1a" transform="rotate(-39 64.8 635.3)" textLength="25.82" lengthAdjust="spacingAndGlyphs">PPAR&#947;</text>
<text x="75.50" y="638.00" style="font-size:9.02px" stroke="#1a1a1a" transform="rotate(-40 75.5 638.0)" textLength="11.85" lengthAdjust="spacingAndGlyphs">KO</text>
<text x="144.50" y="637.70" style="font-size:9.02px" stroke="#1a1a1a" transform="rotate(-40 144.5 637.7)" textLength="12.75" lengthAdjust="spacingAndGlyphs">WT</text>
<text x="160.80" y="635.30" style="font-size:9.02px" stroke="#1a1a1a" transform="rotate(-39 160.8 635.3)" textLength="25.82" lengthAdjust="spacingAndGlyphs">PPAR&#947;</text>
<text x="171.50" y="638.00" style="font-size:9.02px" stroke="#1a1a1a" transform="rotate(-40 171.5 638.0)" textLength="11.85" lengthAdjust="spacingAndGlyphs">KO</text>
<text x="286.50" y="576.50" style="font-size:9.02px" text-anchor="middle" stroke="#1a1a1a" textLength="30.98" lengthAdjust="spacingAndGlyphs">CRISPR</text>
<path d="M266 578.4H307M244.6 593.6H285.8M291.1 593.6H332.4" stroke="#333" stroke-width="0.8"/>
<text x="265.40" y="590.30" style="font-size:9.02px" text-anchor="middle" stroke="#1a1a1a" textLength="34.63" lengthAdjust="spacingAndGlyphs">Scramble</text>
<text x="311.90" y="589.40" style="font-size:9.02px" text-anchor="middle" stroke="#1a1a1a" textLength="13.22" lengthAdjust="spacingAndGlyphs">Jun</text>
<text x="225.30" y="604.60" style="font-size:9.02px" stroke="#1a1a1a" textLength="7.75" lengthAdjust="spacingAndGlyphs">IP</text>
<text x="259.20" y="617.00" style="font-size:9.02px" stroke="#1a1a1a" transform="rotate(-90 259.2 617)" textLength="19.44" lengthAdjust="spacingAndGlyphs">ATF3</text>
<text x="281.30" y="617.00" style="font-size:9.02px" stroke="#1a1a1a" transform="rotate(-90 281.3 617)" textLength="19.14" lengthAdjust="spacingAndGlyphs">JunD</text>
<text x="305.70" y="617.00" style="font-size:9.02px" stroke="#1a1a1a" transform="rotate(-90 305.7 617)" textLength="19.44" lengthAdjust="spacingAndGlyphs">ATF3</text>
<text x="326.40" y="617.00" style="font-size:9.02px" stroke="#1a1a1a" transform="rotate(-90 326.4 617)" textLength="19.14" lengthAdjust="spacingAndGlyphs">JunD</text>
<text x="211.60" y="625.50" style="font-size:9.02px" stroke="#1a1a1a" textLength="10.03" lengthAdjust="spacingAndGlyphs">IB:</text>
<text x="211.60" y="635.70" style="font-size:9.02px" stroke="#1a1a1a" textLength="25.82" lengthAdjust="spacingAndGlyphs">PPAR&#947;</text>
<text x="237.20" y="675.80" style="font-size:9.02px" text-anchor="end" stroke="#1a1a1a" textLength="13.22" lengthAdjust="spacingAndGlyphs">Jun</text>
<text x="332.40" y="630.30" style="font-size:9.02px" stroke="#1a1a1a" textLength="30.99" lengthAdjust="spacingAndGlyphs">- 62 kDa</text>
<text x="332.40" y="684.60" style="font-size:9.02px" stroke="#1a1a1a" textLength="30.99" lengthAdjust="spacingAndGlyphs">- 38 kDa</text>
</svg></body></html>
